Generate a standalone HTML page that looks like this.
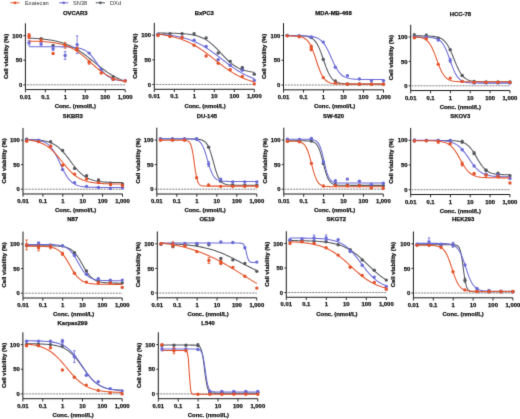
<!DOCTYPE html>
<html><head><meta charset="utf-8"><style>
html,body{margin:0;padding:0;background:#fff;width:520px;height:419px;overflow:hidden}
svg{display:block;} text{stroke:#111;stroke-width:0.25px} svg{will-change:transform;-webkit-font-smoothing:antialiased;font-family:"Liberation Sans",sans-serif;fill:#111}
</style></head><body>
<svg width="520" height="419" viewBox="0 0 520 419">
<defs><filter id="bl" color-interpolation-filters="sRGB" x="0" y="0" width="520" height="419" filterUnits="userSpaceOnUse"><feConvolveMatrix order="3" kernelMatrix="0.0113 0.0838 0.0113 0.0838 0.6193 0.0838 0.0113 0.0838 0.0113" edgeMode="duplicate" preserveAlpha="true"/></filter></defs><g filter="url(#bl)">
<rect width="520" height="419" fill="#fff"/>
<line x1="10.6" y1="2.8" x2="19.4" y2="2.8" stroke="#e4522a" stroke-width="1"/><circle cx="15.0" cy="2.8" r="1.4" fill="#e4522a"/><text x="25" y="4.9" font-size="5.7" style="fill:#333;stroke:none">Exatecan</text>
<line x1="59.2" y1="2.8" x2="68.2" y2="2.8" stroke="#6a6ad8" stroke-width="1"/><circle cx="63.7" cy="2.8" r="1.4" fill="#6a6ad8"/><text x="73" y="4.9" font-size="5.7" style="fill:#333;stroke:none">SN38</text>
<line x1="95.8" y1="2.8" x2="105" y2="2.8" stroke="#53565c" stroke-width="1"/><circle cx="100.4" cy="2.8" r="1.4" fill="#53565c"/><text x="110" y="4.9" font-size="5.7" style="fill:#333;stroke:none">DXd</text>
<g><text x="75.3" y="15.4" font-size="5.9" font-weight="bold" text-anchor="middle">OVCAR3</text><text transform="translate(8.3,56.45) rotate(-90)" font-size="5.9" font-weight="bold" text-anchor="middle">Cell viability (%)</text><text x="22.2" y="86.9" font-size="5.9" font-weight="bold" text-anchor="end">0</text><text x="22.2" y="62.3" font-size="5.9" font-weight="bold" text-anchor="end">50</text><text x="22.2" y="37.7" font-size="5.9" font-weight="bold" text-anchor="end">100</text><text x="25.4" y="98.6" font-size="5.9" font-weight="bold" text-anchor="middle">0.01</text><text x="45.36" y="98.6" font-size="5.9" font-weight="bold" text-anchor="middle">0.1</text><text x="65.32" y="98.6" font-size="5.9" font-weight="bold" text-anchor="middle">1</text><text x="85.28" y="98.6" font-size="5.9" font-weight="bold" text-anchor="middle">10</text><text x="105.24" y="98.6" font-size="5.9" font-weight="bold" text-anchor="middle">100</text><text x="125.2" y="98.6" font-size="5.9" font-weight="bold" text-anchor="middle">1,000</text><path d="M23.4 84.8H25.4M23.4 60.2H25.4M23.4 35.6H25.4M25.4 89.6V92.4M45.36 89.6V92.4M65.32 89.6V92.4M85.28 89.6V92.4M105.24 89.6V92.4M125.2 89.6V92.4" stroke="#1a1a1a" stroke-width="0.9"/><text x="75.3" y="108" font-size="5.9" font-weight="bold" text-anchor="middle">Conc. (nmol/L)</text><line x1="26.9" y1="84.8" x2="125.2" y2="84.8" stroke="#333" stroke-width="0.9" stroke-dasharray="0.7 0.8"/><path d="M25.4 23.3V89.6H125.2" fill="none" stroke="#1a1a1a" stroke-width="1"/><path d="M29.06 38.1L30.26 38.15L31.47 38.21L32.67 38.27L33.87 38.34L35.07 38.41L36.27 38.49L37.48 38.58L38.68 38.67L39.88 38.77L41.08 38.88L42.28 39L43.48 39.12L44.69 39.25L45.89 39.4L47.09 39.55L48.29 39.72L49.49 39.9L50.69 40.09L51.9 40.3L53.1 40.52L54.3 40.76L55.5 41.01L56.7 41.29L57.9 41.58L59.11 41.89L60.31 42.22L61.51 42.57L62.71 42.95L63.91 43.35L65.11 43.77L66.32 44.22L67.52 44.7L68.72 45.2L69.92 45.74L71.12 46.3L72.32 46.89L73.53 47.51L74.73 48.16L75.93 48.84L77.13 49.55L78.33 50.29L79.53 51.05L80.74 51.85L81.94 52.67L83.14 53.51L84.34 54.38L85.54 55.28L86.75 56.19L87.95 57.12L89.15 58.06L90.35 59.02L91.55 59.98L92.75 60.96L93.96 61.93L95.16 62.91L96.36 63.89L97.56 64.86L98.76 65.82L99.96 66.77L101.17 67.71L102.37 68.63L103.57 69.53L104.77 70.41L105.97 71.26L107.17 72.1L108.38 72.9L109.58 73.68L110.78 74.43L111.98 75.16L113.18 75.85L114.38 76.51L115.59 77.14L116.79 77.75L117.99 78.32L119.19 78.87L120.39 79.39L121.59 79.87L122.8 80.34L124 80.77L125.2 81.18" fill="none" stroke="#53565c" stroke-width="1.05"/><g fill="#53565c"><circle cx="41.08" cy="38.8" r="1.7"/><circle cx="53.1" cy="45.44" r="1.7"/><circle cx="113.18" cy="76.58" r="1.7"/></g><path d="M29.06 46.79L30.26 46.79L31.47 46.79L32.67 46.79L33.87 46.79L35.07 46.79L36.27 46.79L37.48 46.79L38.68 46.79L39.88 46.79L41.08 46.79L42.28 46.79L43.48 46.79L44.69 46.79L45.89 46.79L47.09 46.8L48.29 46.8L49.49 46.8L50.69 46.8L51.9 46.8L53.1 46.81L54.3 46.81L55.5 46.81L56.7 46.82L57.9 46.83L59.11 46.83L60.31 46.84L61.51 46.86L62.71 46.87L63.91 46.89L65.11 46.92L66.32 46.94L67.52 46.98L68.72 47.02L69.92 47.08L71.12 47.14L72.32 47.23L73.53 47.32L74.73 47.45L75.93 47.59L77.13 47.77L78.33 47.99L79.53 48.26L80.74 48.59L81.94 48.97L83.14 49.44L84.34 50L85.54 50.66L86.75 51.43L87.95 52.33L89.15 53.37L90.35 54.55L91.55 55.87L92.75 57.33L93.96 58.91L95.16 60.59L96.36 62.34L97.56 64.13L98.76 65.91L99.96 67.65L101.17 69.32L102.37 70.88L103.57 72.31L104.77 73.61L105.97 74.77L107.17 75.78L108.38 76.66L109.58 77.41L110.78 78.05L111.98 78.59L113.18 79.05L114.38 79.42L115.59 79.74L116.79 79.99L117.99 80.21L119.19 80.38L120.39 80.53L121.59 80.64L122.8 80.74L124 80.82L125.2 80.88" fill="none" stroke="#6a6ad8" stroke-width="1.05"/><path d="M29.06 40.27V45.19M27.76 40.27H30.36M27.76 45.19H30.36M41.08 41.75V45.69M39.78 41.75H42.38M39.78 45.69H42.38M53.1 46.62V50.56M51.8 46.62H54.4M51.8 50.56H54.4M65.11 51.54V59.41M63.81 51.54H66.41M63.81 59.41H66.41M77.13 35.85V53.56M75.83 35.85H78.43M75.83 53.56H78.43" stroke="#6a6ad8" stroke-width="0.8" fill="none"/><g fill="#6a6ad8"><circle cx="29.06" cy="42.73" r="1.7"/><circle cx="41.08" cy="43.72" r="1.7"/><circle cx="53.1" cy="48.59" r="1.7"/><circle cx="65.11" cy="55.48" r="1.7"/><circle cx="77.13" cy="44.7" r="1.7"/><circle cx="89.15" cy="53.12" r="1.7"/><circle cx="101.17" cy="69.6" r="1.7"/><circle cx="113.18" cy="79.39" r="1.7"/><circle cx="125.2" cy="80.62" r="1.7"/></g><path d="M29.06 41.11L30.26 41.13L31.47 41.16L32.67 41.19L33.87 41.22L35.07 41.26L36.27 41.3L37.48 41.35L38.68 41.4L39.88 41.45L41.08 41.51L42.28 41.58L43.48 41.65L44.69 41.73L45.89 41.82L47.09 41.92L48.29 42.03L49.49 42.15L50.69 42.29L51.9 42.43L53.1 42.59L54.3 42.77L55.5 42.96L56.7 43.18L57.9 43.41L59.11 43.66L60.31 43.94L61.51 44.25L62.71 44.58L63.91 44.94L65.11 45.33L66.32 45.75L67.52 46.21L68.72 46.71L69.92 47.24L71.12 47.82L72.32 48.43L73.53 49.09L74.73 49.79L75.93 50.53L77.13 51.32L78.33 52.15L79.53 53.02L80.74 53.92L81.94 54.87L83.14 55.85L84.34 56.86L85.54 57.89L86.75 58.95L87.95 60.02L89.15 61.1L90.35 62.19L91.55 63.28L92.75 64.37L93.96 65.44L95.16 66.5L96.36 67.53L97.56 68.54L98.76 69.51L99.96 70.46L101.17 71.37L102.37 72.23L103.57 73.06L104.77 73.85L105.97 74.59L107.17 75.29L108.38 75.94L109.58 76.56L110.78 77.13L111.98 77.66L113.18 78.16L114.38 78.62L115.59 79.04L116.79 79.43L117.99 79.79L119.19 80.12L120.39 80.43L121.59 80.7L122.8 80.96L124 81.19L125.2 81.4" fill="none" stroke="#e4522a" stroke-width="1.05"/><path d="M29.06 33.63V36.58M27.76 33.63H30.36M27.76 36.58H30.36M65.11 42.34V48.24M63.81 42.34H66.41M63.81 48.24H66.41M77.13 47.21V51.15M75.83 47.21H78.43M75.83 51.15H78.43M89.15 60.35V64.28M87.85 60.35H90.45M87.85 64.28H90.45M29.06 35.5V38.45M27.76 35.5H30.36M27.76 38.45H30.36" stroke="#e4522a" stroke-width="0.8" fill="none"/><g fill="#e4522a"><circle cx="29.06" cy="35.11" r="1.7"/><circle cx="41.08" cy="39.83" r="1.7"/><circle cx="53.1" cy="53.51" r="1.7"/><circle cx="65.11" cy="45.29" r="1.7"/><circle cx="77.13" cy="49.18" r="1.7"/><circle cx="89.15" cy="62.32" r="1.7"/><circle cx="101.17" cy="73.09" r="1.7"/><circle cx="113.18" cy="79.39" r="1.7"/><circle cx="125.2" cy="80.96" r="1.7"/><circle cx="29.06" cy="36.98" r="1.7"/></g></g>
<g><text x="204.3" y="15.4" font-size="5.9" font-weight="bold" text-anchor="middle">BxPC3</text><text transform="translate(137.2,56.09) rotate(-90)" font-size="5.9" font-weight="bold" text-anchor="middle">Cell viability (%)</text><text x="151.1" y="86.6" font-size="5.9" font-weight="bold" text-anchor="end">0</text><text x="151.1" y="61.95" font-size="5.9" font-weight="bold" text-anchor="end">50</text><text x="151.1" y="37.3" font-size="5.9" font-weight="bold" text-anchor="end">100</text><text x="154.3" y="98.31" font-size="5.9" font-weight="bold" text-anchor="middle">0.01</text><text x="174.3" y="98.31" font-size="5.9" font-weight="bold" text-anchor="middle">0.1</text><text x="194.3" y="98.31" font-size="5.9" font-weight="bold" text-anchor="middle">1</text><text x="214.3" y="98.31" font-size="5.9" font-weight="bold" text-anchor="middle">10</text><text x="234.3" y="98.31" font-size="5.9" font-weight="bold" text-anchor="middle">100</text><text x="254.3" y="98.31" font-size="5.9" font-weight="bold" text-anchor="middle">1,000</text><path d="M152.3 84.5H154.3M152.3 59.85H154.3M152.3 35.2H154.3M154.3 89.31V92.11M174.3 89.31V92.11M194.3 89.31V92.11M214.3 89.31V92.11M234.3 89.31V92.11M254.3 89.31V92.11" stroke="#1a1a1a" stroke-width="0.9"/><text x="205" y="107.71" font-size="5.9" font-weight="bold" text-anchor="middle">Conc. (nmol/L)</text><line x1="155.8" y1="84.5" x2="254.3" y2="84.5" stroke="#333" stroke-width="0.9" stroke-dasharray="0.7 0.8"/><path d="M154.3 22.88V89.31H254.3" fill="none" stroke="#1a1a1a" stroke-width="1"/><path d="M157.97 33.08L159.17 33.08L160.38 33.09L161.58 33.1L162.79 33.11L163.99 33.12L165.2 33.13L166.4 33.15L167.6 33.16L168.81 33.18L170.01 33.2L171.22 33.22L172.42 33.25L173.62 33.28L174.83 33.31L176.03 33.35L177.24 33.4L178.44 33.45L179.64 33.51L180.85 33.57L182.05 33.64L183.26 33.73L184.46 33.82L185.67 33.93L186.87 34.05L188.07 34.18L189.28 34.34L190.48 34.51L191.69 34.7L192.89 34.92L194.09 35.17L195.3 35.45L196.5 35.76L197.71 36.11L198.91 36.49L200.11 36.92L201.32 37.4L202.52 37.93L203.73 38.51L204.93 39.15L206.14 39.85L207.34 40.62L208.54 41.44L209.75 42.33L210.95 43.29L212.16 44.31L213.36 45.39L214.56 46.52L215.77 47.7L216.97 48.92L218.18 50.18L219.38 51.47L220.58 52.76L221.79 54.07L222.99 55.36L224.2 56.64L225.4 57.89L226.61 59.1L227.81 60.27L229.01 61.39L230.22 62.45L231.42 63.45L232.63 64.38L233.83 65.26L235.03 66.06L236.24 66.81L237.44 67.49L238.65 68.12L239.85 68.68L241.05 69.2L242.26 69.66L243.46 70.08L244.67 70.45L245.87 70.79L247.08 71.09L248.28 71.36L249.48 71.6L250.69 71.81L251.89 72L253.1 72.16L254.3 72.31" fill="none" stroke="#53565c" stroke-width="1.05"/><path d="M242.26 66.75V68.72M240.96 66.75H243.56M240.96 68.72H243.56M242.26 68.23V70.2M240.96 68.23H243.56M240.96 70.2H243.56" stroke="#53565c" stroke-width="0.8" fill="none"/><g fill="#53565c"><circle cx="157.97" cy="34.31" r="1.7"/><circle cx="170.01" cy="33.72" r="1.7"/><circle cx="182.05" cy="33.72" r="1.7"/><circle cx="194.09" cy="33.72" r="1.7"/><circle cx="206.14" cy="37.91" r="1.7"/><circle cx="218.18" cy="52.95" r="1.7"/><circle cx="230.22" cy="61.33" r="1.7"/><circle cx="242.26" cy="67.74" r="1.7"/><circle cx="254.3" cy="74.15" r="1.7"/><circle cx="242.26" cy="69.22" r="1.7"/></g><path d="M157.97 34.13L159.17 34.21L160.38 34.3L161.58 34.4L162.79 34.5L163.99 34.61L165.2 34.72L166.4 34.85L167.6 34.98L168.81 35.12L170.01 35.27L171.22 35.43L172.42 35.61L173.62 35.79L174.83 35.99L176.03 36.2L177.24 36.42L178.44 36.66L179.64 36.91L180.85 37.18L182.05 37.47L183.26 37.77L184.46 38.09L185.67 38.43L186.87 38.79L188.07 39.17L189.28 39.57L190.48 40L191.69 40.45L192.89 40.92L194.09 41.41L195.3 41.93L196.5 42.48L197.71 43.05L198.91 43.64L200.11 44.26L201.32 44.91L202.52 45.58L203.73 46.28L204.93 47.01L206.14 47.76L207.34 48.53L208.54 49.32L209.75 50.14L210.95 50.97L212.16 51.83L213.36 52.7L214.56 53.59L215.77 54.49L216.97 55.4L218.18 56.33L219.38 57.25L220.58 58.19L221.79 59.12L222.99 60.06L224.2 60.99L225.4 61.92L226.61 62.84L227.81 63.75L229.01 64.65L230.22 65.53L231.42 66.4L232.63 67.25L233.83 68.08L235.03 68.89L236.24 69.68L237.44 70.45L238.65 71.2L239.85 71.91L241.05 72.61L242.26 73.28L243.46 73.92L244.67 74.53L245.87 75.13L247.08 75.69L248.28 76.23L249.48 76.74L250.69 77.23L251.89 77.7L253.1 78.14L254.3 78.56" fill="none" stroke="#6a6ad8" stroke-width="1.05"/><g fill="#6a6ad8"><circle cx="157.97" cy="34.71" r="1.7"/><circle cx="170.01" cy="35.69" r="1.7"/><circle cx="182.05" cy="37.17" r="1.7"/><circle cx="194.09" cy="40.13" r="1.7"/><circle cx="206.14" cy="46.54" r="1.7"/><circle cx="218.18" cy="59.6" r="1.7"/><circle cx="230.22" cy="65.27" r="1.7"/><circle cx="242.26" cy="70.2" r="1.7"/><circle cx="254.3" cy="80.41" r="1.7"/></g><path d="M157.97 34.22L159.17 34.36L160.38 34.51L161.58 34.67L162.79 34.84L163.99 35.02L165.2 35.22L166.4 35.42L167.6 35.64L168.81 35.87L170.01 36.11L171.22 36.37L172.42 36.65L173.62 36.94L174.83 37.25L176.03 37.58L177.24 37.92L178.44 38.29L179.64 38.67L180.85 39.08L182.05 39.5L183.26 39.95L184.46 40.43L185.67 40.92L186.87 41.44L188.07 41.99L189.28 42.56L190.48 43.15L191.69 43.77L192.89 44.41L194.09 45.08L195.3 45.78L196.5 46.49L197.71 47.24L198.91 48L200.11 48.79L201.32 49.6L202.52 50.44L203.73 51.29L204.93 52.16L206.14 53.04L207.34 53.94L208.54 54.86L209.75 55.78L210.95 56.71L212.16 57.66L213.36 58.6L214.56 59.55L215.77 60.5L216.97 61.44L218.18 62.38L219.38 63.32L220.58 64.25L221.79 65.16L222.99 66.07L224.2 66.95L225.4 67.83L226.61 68.68L227.81 69.52L229.01 70.33L230.22 71.13L231.42 71.9L232.63 72.64L233.83 73.37L235.03 74.07L236.24 74.74L237.44 75.39L238.65 76.01L239.85 76.61L241.05 77.19L242.26 77.74L243.46 78.26L244.67 78.76L245.87 79.24L247.08 79.69L248.28 80.12L249.48 80.53L250.69 80.92L251.89 81.29L253.1 81.64L254.3 81.97" fill="none" stroke="#e4522a" stroke-width="1.05"/><g fill="#e4522a"><circle cx="157.97" cy="35.45" r="1.7"/><circle cx="170.01" cy="36.43" r="1.7"/><circle cx="182.05" cy="37.42" r="1.7"/><circle cx="194.09" cy="45.31" r="1.7"/><circle cx="206.14" cy="56" r="1.7"/><circle cx="218.18" cy="63.3" r="1.7"/><circle cx="230.22" cy="69.81" r="1.7"/><circle cx="242.26" cy="76.41" r="1.7"/><circle cx="254.3" cy="83.91" r="1.7"/></g></g>
<g><text x="333.5" y="15.4" font-size="5.9" font-weight="bold" text-anchor="middle">MDA-MB-468</text><text transform="translate(266.4,56.48) rotate(-90)" font-size="5.9" font-weight="bold" text-anchor="middle">Cell viability (%)</text><text x="280.3" y="87.1" font-size="5.9" font-weight="bold" text-anchor="end">0</text><text x="280.3" y="62.35" font-size="5.9" font-weight="bold" text-anchor="end">50</text><text x="280.3" y="37.6" font-size="5.9" font-weight="bold" text-anchor="end">100</text><text x="283.5" y="98.83" font-size="5.9" font-weight="bold" text-anchor="middle">0.01</text><text x="303.5" y="98.83" font-size="5.9" font-weight="bold" text-anchor="middle">0.1</text><text x="323.5" y="98.83" font-size="5.9" font-weight="bold" text-anchor="middle">1</text><text x="343.5" y="98.83" font-size="5.9" font-weight="bold" text-anchor="middle">10</text><text x="363.5" y="98.83" font-size="5.9" font-weight="bold" text-anchor="middle">100</text><text x="383.5" y="98.83" font-size="5.9" font-weight="bold" text-anchor="middle">1,000</text><path d="M281.5 85H283.5M281.5 60.25H283.5M281.5 35.5H283.5M283.5 89.83V92.63M303.5 89.83V92.63M323.5 89.83V92.63M343.5 89.83V92.63M363.5 89.83V92.63M383.5 89.83V92.63" stroke="#1a1a1a" stroke-width="0.9"/><text x="334.6" y="108.23" font-size="5.9" font-weight="bold" text-anchor="middle">Conc. (nmol/L)</text><line x1="285" y1="85" x2="383.5" y2="85" stroke="#333" stroke-width="0.9" stroke-dasharray="0.7 0.8"/><path d="M283.5 23.12V89.83H383.5" fill="none" stroke="#1a1a1a" stroke-width="1"/><path d="M287.17 35.52L288.37 35.52L289.58 35.52L290.78 35.53L291.99 35.53L293.19 35.54L294.4 35.55L295.6 35.56L296.8 35.58L298.01 35.61L299.21 35.64L300.42 35.69L301.62 35.75L302.82 35.83L304.03 35.94L305.23 36.08L306.44 36.27L307.64 36.53L308.84 36.87L310.05 37.31L311.25 37.89L312.46 38.65L313.66 39.62L314.87 40.87L316.07 42.42L317.27 44.34L318.48 46.65L319.68 49.36L320.89 52.42L322.09 55.76L323.29 59.26L324.5 62.79L325.7 66.19L326.91 69.33L328.11 72.14L329.31 74.55L330.52 76.58L331.72 78.23L332.93 79.55L334.13 80.6L335.34 81.41L336.54 82.03L337.74 82.51L338.95 82.87L340.15 83.15L341.36 83.35L342.56 83.51L343.76 83.63L344.97 83.71L346.17 83.78L347.38 83.83L348.58 83.87L349.78 83.89L350.99 83.91L352.19 83.93L353.4 83.94L354.6 83.95L355.81 83.96L357.01 83.96L358.21 83.96L359.42 83.97L360.62 83.97L361.83 83.97L363.03 83.97L364.23 83.97L365.44 83.97L366.64 83.97L367.85 83.97L369.05 83.97L370.25 83.97L371.46 83.97L372.66 83.97L373.87 83.97L375.07 83.97L376.28 83.97L377.48 83.97L378.68 83.97L379.89 83.97L381.09 83.97L382.3 83.97L383.5 83.97" fill="none" stroke="#53565c" stroke-width="1.05"/><g fill="#53565c"><circle cx="287.17" cy="35.5" r="1.7"/><circle cx="299.21" cy="35.99" r="1.7"/><circle cx="311.25" cy="37.48" r="1.7"/><circle cx="323.29" cy="59.41" r="1.7"/><circle cx="335.34" cy="81.04" r="1.7"/><circle cx="347.38" cy="84.01" r="1.7"/><circle cx="359.42" cy="84.01" r="1.7"/><circle cx="371.46" cy="84.01" r="1.7"/><circle cx="383.5" cy="84.01" r="1.7"/></g><path d="M287.17 35.77L288.37 35.77L289.58 35.77L290.78 35.78L291.99 35.78L293.19 35.78L294.4 35.79L295.6 35.79L296.8 35.8L298.01 35.81L299.21 35.82L300.42 35.84L301.62 35.86L302.82 35.89L304.03 35.92L305.23 35.96L306.44 36.02L307.64 36.09L308.84 36.18L310.05 36.29L311.25 36.44L312.46 36.63L313.66 36.87L314.87 37.17L316.07 37.55L317.27 38.03L318.48 38.64L319.68 39.38L320.89 40.31L322.09 41.43L323.29 42.79L324.5 44.39L325.7 46.25L326.91 48.38L328.11 50.74L329.31 53.29L330.52 55.97L331.72 58.71L332.93 61.41L334.13 64L335.34 66.4L336.54 68.58L337.74 70.5L338.95 72.16L340.15 73.57L341.36 74.74L342.56 75.7L343.76 76.49L344.97 77.12L346.17 77.63L347.38 78.03L348.58 78.35L349.78 78.6L350.99 78.8L352.19 78.95L353.4 79.07L354.6 79.17L355.81 79.24L357.01 79.3L358.21 79.35L359.42 79.38L360.62 79.41L361.83 79.43L363.03 79.45L364.23 79.46L365.44 79.47L366.64 79.48L367.85 79.49L369.05 79.49L370.25 79.49L371.46 79.5L372.66 79.5L373.87 79.5L375.07 79.5L376.28 79.5L377.48 79.5L378.68 79.5L379.89 79.5L381.09 79.51L382.3 79.51L383.5 79.51" fill="none" stroke="#6a6ad8" stroke-width="1.05"/><g fill="#6a6ad8"><circle cx="287.17" cy="35.5" r="1.7"/><circle cx="299.21" cy="35.99" r="1.7"/><circle cx="311.25" cy="36.98" r="1.7"/><circle cx="323.29" cy="42.08" r="1.7"/><circle cx="335.34" cy="67.18" r="1.7"/><circle cx="347.38" cy="75.69" r="1.7"/><circle cx="359.42" cy="79.01" r="1.7"/><circle cx="371.46" cy="80.59" r="1.7"/><circle cx="383.5" cy="80.59" r="1.7"/></g><path d="M287.17 36L288.37 36.01L289.58 36.03L290.78 36.04L291.99 36.07L293.19 36.11L294.4 36.15L295.6 36.22L296.8 36.31L298.01 36.43L299.21 36.59L300.42 36.81L301.62 37.11L302.82 37.51L304.03 38.04L305.23 38.74L306.44 39.66L307.64 40.86L308.84 42.39L310.05 44.31L311.25 46.65L312.46 49.43L313.66 52.61L314.87 56.11L316.07 59.78L317.27 63.47L318.48 67L319.68 70.23L320.89 73.07L322.09 75.48L323.29 77.45L324.5 79.04L325.7 80.28L326.91 81.24L328.11 81.97L329.31 82.52L330.52 82.94L331.72 83.25L332.93 83.48L334.13 83.65L335.34 83.77L336.54 83.86L337.74 83.93L338.95 83.98L340.15 84.02L341.36 84.05L342.56 84.07L343.76 84.08L344.97 84.09L346.17 84.1L347.38 84.11L348.58 84.11L349.78 84.11L350.99 84.12L352.19 84.12L353.4 84.12L354.6 84.12L355.81 84.12L357.01 84.12L358.21 84.12L359.42 84.12L360.62 84.12L361.83 84.12L363.03 84.12L364.23 84.12L365.44 84.12L366.64 84.12L367.85 84.12L369.05 84.12L370.25 84.12L371.46 84.12L372.66 84.12L373.87 84.12L375.07 84.12L376.28 84.12L377.48 84.12L378.68 84.12L379.89 84.12L381.09 84.12L382.3 84.12L383.5 84.12" fill="none" stroke="#e4522a" stroke-width="1.05"/><path d="M311.25 45.1V48.07M309.95 45.1H312.55M309.95 48.07H312.55M311.25 47.88V50.84M309.95 47.88H312.55M309.95 50.84H312.55" stroke="#e4522a" stroke-width="0.8" fill="none"/><g fill="#e4522a"><circle cx="287.17" cy="35.85" r="1.7"/><circle cx="299.21" cy="36.79" r="1.7"/><circle cx="311.25" cy="46.59" r="1.7"/><circle cx="323.29" cy="77.58" r="1.7"/><circle cx="335.34" cy="82.92" r="1.7"/><circle cx="347.38" cy="84.31" r="1.7"/><circle cx="359.42" cy="84.31" r="1.7"/><circle cx="371.46" cy="84.31" r="1.7"/><circle cx="383.5" cy="84.31" r="1.7"/><circle cx="311.25" cy="49.36" r="1.7"/></g></g>
<g><text x="460.32" y="16.2" font-size="5.9" font-weight="bold" text-anchor="middle">HCC-78</text><text transform="translate(392.9,57.68) rotate(-90)" font-size="5.9" font-weight="bold" text-anchor="middle">Cell viability (%)</text><text x="407.5" y="87.9" font-size="5.9" font-weight="bold" text-anchor="end">0</text><text x="407.5" y="63.5" font-size="5.9" font-weight="bold" text-anchor="end">50</text><text x="407.5" y="39.1" font-size="5.9" font-weight="bold" text-anchor="end">100</text><text x="410.7" y="99.56" font-size="5.9" font-weight="bold" text-anchor="middle">0.01</text><text x="430.55" y="99.56" font-size="5.9" font-weight="bold" text-anchor="middle">0.1</text><text x="450.4" y="99.56" font-size="5.9" font-weight="bold" text-anchor="middle">1</text><text x="470.25" y="99.56" font-size="5.9" font-weight="bold" text-anchor="middle">10</text><text x="490.1" y="99.56" font-size="5.9" font-weight="bold" text-anchor="middle">100</text><text x="509.95" y="99.56" font-size="5.9" font-weight="bold" text-anchor="middle">1,000</text><path d="M408.7 85.8H410.7M408.7 61.4H410.7M408.7 37H410.7M410.7 90.56V93.36M430.55 90.56V93.36M450.4 90.56V93.36M470.25 90.56V93.36M490.1 90.56V93.36M509.95 90.56V93.36" stroke="#1a1a1a" stroke-width="0.9"/><text x="460.32" y="108.96" font-size="5.9" font-weight="bold" text-anchor="middle">Conc. (nmol/L)</text><line x1="412.2" y1="85.8" x2="509.95" y2="85.8" stroke="#333" stroke-width="0.9" stroke-dasharray="0.7 0.8"/><path d="M410.7 24.8V90.56H509.95" fill="none" stroke="#1a1a1a" stroke-width="1"/><path d="M414.34 35.86L415.54 35.86L416.73 35.87L417.93 35.87L419.12 35.88L420.32 35.88L421.51 35.89L422.71 35.9L423.9 35.92L425.1 35.94L426.29 35.96L427.49 35.99L428.68 36.04L429.88 36.09L431.07 36.16L432.27 36.25L433.46 36.37L434.66 36.53L435.85 36.72L437.05 36.98L438.24 37.3L439.44 37.71L440.63 38.24L441.83 38.9L443.03 39.74L444.22 40.77L445.42 42.04L446.61 43.57L447.81 45.4L449 47.52L450.2 49.94L451.39 52.61L452.59 55.48L453.78 58.46L454.98 61.45L456.17 64.36L457.37 67.1L458.56 69.6L459.76 71.81L460.95 73.72L462.15 75.34L463.34 76.69L464.54 77.79L465.73 78.68L466.93 79.39L468.12 79.95L469.32 80.4L470.51 80.75L471.71 81.02L472.9 81.23L474.1 81.4L475.29 81.52L476.49 81.62L477.68 81.7L478.88 81.76L480.07 81.8L481.27 81.84L482.46 81.87L483.66 81.89L484.85 81.9L486.05 81.92L487.24 81.93L488.44 81.93L489.63 81.94L490.83 81.94L492.02 81.95L493.22 81.95L494.41 81.95L495.61 81.95L496.8 81.95L498 81.96L499.19 81.96L500.39 81.96L501.58 81.96L502.78 81.96L503.97 81.96L505.17 81.96L506.36 81.96L507.56 81.96L508.75 81.96L509.95 81.96" fill="none" stroke="#53565c" stroke-width="1.05"/><path d="M414.34 33.58V37.49M413.04 33.58H415.64M413.04 37.49H415.64M426.29 34.07V37M424.99 34.07H427.59M424.99 37H427.59" stroke="#53565c" stroke-width="0.8" fill="none"/><g fill="#53565c"><circle cx="414.34" cy="35.54" r="1.7"/><circle cx="426.29" cy="35.54" r="1.7"/><circle cx="438.24" cy="38.22" r="1.7"/><circle cx="450.2" cy="49.69" r="1.7"/><circle cx="462.15" cy="75.55" r="1.7"/><circle cx="474.1" cy="81.41" r="1.7"/><circle cx="486.05" cy="81.9" r="1.7"/><circle cx="498" cy="81.9" r="1.7"/><circle cx="509.95" cy="81.9" r="1.7"/></g><path d="M414.34 37.12L415.54 37.12L416.73 37.13L417.93 37.13L419.12 37.14L420.32 37.15L421.51 37.16L422.71 37.17L423.9 37.19L425.1 37.21L426.29 37.24L427.49 37.29L428.68 37.35L429.88 37.43L431.07 37.53L432.27 37.68L433.46 37.87L434.66 38.12L435.85 38.45L437.05 38.9L438.24 39.48L439.44 40.24L440.63 41.21L441.83 42.46L443.03 44.02L444.22 45.94L445.42 48.25L446.61 50.93L447.81 53.94L449 57.2L450.2 60.59L451.39 63.96L452.59 67.16L453.78 70.1L454.98 72.68L456.17 74.87L457.37 76.69L458.56 78.17L459.76 79.33L460.95 80.25L462.15 80.95L463.34 81.49L464.54 81.9L465.73 82.22L466.93 82.45L468.12 82.62L469.32 82.76L470.51 82.85L471.71 82.93L472.9 82.98L474.1 83.02L475.29 83.05L476.49 83.08L477.68 83.09L478.88 83.11L480.07 83.12L481.27 83.12L482.46 83.13L483.66 83.13L484.85 83.13L486.05 83.14L487.24 83.14L488.44 83.14L489.63 83.14L490.83 83.14L492.02 83.14L493.22 83.14L494.41 83.14L495.61 83.14L496.8 83.14L498 83.14L499.19 83.14L500.39 83.14L501.58 83.14L502.78 83.14L503.97 83.14L505.17 83.14L506.36 83.14L507.56 83.14L508.75 83.14L509.95 83.14" fill="none" stroke="#6a6ad8" stroke-width="1.05"/><path d="M450.2 58.47V62.38M448.9 58.47H451.5M448.9 62.38H451.5" stroke="#6a6ad8" stroke-width="0.8" fill="none"/><g fill="#6a6ad8"><circle cx="414.34" cy="37" r="1.7"/><circle cx="426.29" cy="37" r="1.7"/><circle cx="438.24" cy="39.93" r="1.7"/><circle cx="450.2" cy="60.42" r="1.7"/><circle cx="462.15" cy="81.41" r="1.7"/><circle cx="474.1" cy="83.02" r="1.7"/><circle cx="486.05" cy="83.02" r="1.7"/><circle cx="498" cy="83.02" r="1.7"/><circle cx="509.95" cy="83.02" r="1.7"/></g><path d="M414.34 36.88L415.54 36.95L416.73 37.03L417.93 37.15L419.12 37.3L420.32 37.51L421.51 37.78L422.71 38.13L423.9 38.6L425.1 39.22L426.29 40.01L427.49 41.04L428.68 42.33L429.88 43.94L431.07 45.91L432.27 48.24L433.46 50.93L434.66 53.93L435.85 57.14L437.05 60.44L438.24 63.7L439.44 66.77L440.63 69.55L441.83 72L443.03 74.07L444.22 75.78L445.42 77.16L446.61 78.25L447.81 79.11L449 79.77L450.2 80.28L451.39 80.67L452.59 80.96L453.78 81.18L454.98 81.35L456.17 81.47L457.37 81.57L458.56 81.64L459.76 81.69L460.95 81.73L462.15 81.76L463.34 81.78L464.54 81.79L465.73 81.81L466.93 81.82L468.12 81.82L469.32 81.83L470.51 81.83L471.71 81.83L472.9 81.84L474.1 81.84L475.29 81.84L476.49 81.84L477.68 81.84L478.88 81.84L480.07 81.84L481.27 81.84L482.46 81.84L483.66 81.84L484.85 81.84L486.05 81.84L487.24 81.84L488.44 81.84L489.63 81.84L490.83 81.84L492.02 81.84L493.22 81.84L494.41 81.84L495.61 81.84L496.8 81.84L498 81.84L499.19 81.84L500.39 81.84L501.58 81.84L502.78 81.84L503.97 81.84L505.17 81.84L506.36 81.84L507.56 81.84L508.75 81.84L509.95 81.84" fill="none" stroke="#e4522a" stroke-width="1.05"/><g fill="#e4522a"><circle cx="414.34" cy="37.83" r="1.7"/><circle cx="426.29" cy="38.81" r="1.7"/><circle cx="438.24" cy="64.33" r="1.7"/><circle cx="450.2" cy="78.09" r="1.7"/><circle cx="462.15" cy="81.41" r="1.7"/><circle cx="474.1" cy="82.38" r="1.7"/><circle cx="486.05" cy="82.38" r="1.7"/><circle cx="498" cy="82.38" r="1.7"/><circle cx="509.95" cy="82.38" r="1.7"/></g></g>
<g><text x="72.75" y="117.7" font-size="5.9" font-weight="bold" text-anchor="middle">SKBR3</text><text transform="translate(5.9,160.96) rotate(-90)" font-size="5.9" font-weight="bold" text-anchor="middle">Cell viability (%)</text><text x="19.8" y="191.3" font-size="5.9" font-weight="bold" text-anchor="end">0</text><text x="19.8" y="166.8" font-size="5.9" font-weight="bold" text-anchor="end">50</text><text x="19.8" y="142.3" font-size="5.9" font-weight="bold" text-anchor="end">100</text><text x="23" y="202.98" font-size="5.9" font-weight="bold" text-anchor="middle">0.01</text><text x="42.9" y="202.98" font-size="5.9" font-weight="bold" text-anchor="middle">0.1</text><text x="62.8" y="202.98" font-size="5.9" font-weight="bold" text-anchor="middle">1</text><text x="82.7" y="202.98" font-size="5.9" font-weight="bold" text-anchor="middle">10</text><text x="102.6" y="202.98" font-size="5.9" font-weight="bold" text-anchor="middle">100</text><text x="122.5" y="202.98" font-size="5.9" font-weight="bold" text-anchor="middle">1,000</text><path d="M21 189.2H23M21 164.7H23M21 140.2H23M23 193.98V196.78M42.9 193.98V196.78M62.8 193.98V196.78M82.7 193.98V196.78M102.6 193.98V196.78M122.5 193.98V196.78" stroke="#1a1a1a" stroke-width="0.9"/><text x="75.65" y="212.38" font-size="5.9" font-weight="bold" text-anchor="middle">Conc. (nmol/L)</text><line x1="24.5" y1="189.2" x2="122.5" y2="189.2" stroke="#333" stroke-width="0.9" stroke-dasharray="0.7 0.8"/><path d="M23 127.95V193.98H122.5" fill="none" stroke="#1a1a1a" stroke-width="1"/><path d="M26.65 139.43L27.85 139.46L29.05 139.5L30.25 139.54L31.44 139.58L32.64 139.64L33.84 139.7L35.04 139.78L36.24 139.87L37.43 139.96L38.63 140.08L39.83 140.21L41.03 140.36L42.23 140.54L43.43 140.74L44.62 140.97L45.82 141.24L47.02 141.54L48.22 141.89L49.42 142.28L50.61 142.73L51.81 143.23L53.01 143.81L54.21 144.45L55.41 145.17L56.6 145.97L57.8 146.86L59 147.83L60.2 148.9L61.4 150.06L62.6 151.31L63.79 152.64L64.99 154.05L66.19 155.53L67.39 157.06L68.59 158.64L69.78 160.24L70.98 161.85L72.18 163.45L73.38 165.02L74.58 166.55L75.77 168.02L76.97 169.42L78.17 170.75L79.37 171.99L80.57 173.14L81.76 174.19L82.96 175.16L84.16 176.04L85.36 176.83L86.56 177.54L87.76 178.17L88.95 178.74L90.15 179.24L91.35 179.68L92.55 180.07L93.75 180.41L94.94 180.71L96.14 180.97L97.34 181.2L98.54 181.4L99.74 181.57L100.93 181.72L102.13 181.85L103.33 181.96L104.53 182.06L105.73 182.14L106.92 182.22L108.12 182.28L109.32 182.34L110.52 182.38L111.72 182.42L112.92 182.46L114.11 182.49L115.31 182.52L116.51 182.54L117.71 182.56L118.91 182.58L120.1 182.59L121.3 182.6L122.5 182.61" fill="none" stroke="#53565c" stroke-width="1.05"/><g fill="#53565c"><circle cx="26.65" cy="139.22" r="1.7"/><circle cx="38.63" cy="141.42" r="1.7"/><circle cx="50.61" cy="141.67" r="1.7"/><circle cx="62.6" cy="150.49" r="1.7"/><circle cx="74.58" cy="168.42" r="1.7"/><circle cx="86.56" cy="175.77" r="1.7"/><circle cx="98.54" cy="179.89" r="1.7"/><circle cx="110.52" cy="183.12" r="1.7"/><circle cx="122.5" cy="184.01" r="1.7"/></g><path d="M26.65 139.54L27.85 139.57L29.05 139.6L30.25 139.65L31.44 139.7L32.64 139.77L33.84 139.85L35.04 139.95L36.24 140.08L37.43 140.24L38.63 140.43L39.83 140.67L41.03 140.96L42.23 141.31L43.43 141.74L44.62 142.26L45.82 142.89L47.02 143.65L48.22 144.55L49.42 145.62L50.61 146.87L51.81 148.32L53.01 149.98L54.21 151.85L55.41 153.93L56.6 156.18L57.8 158.59L59 161.1L60.2 163.66L61.4 166.22L62.6 168.72L63.79 171.1L64.99 173.32L66.19 175.36L67.39 177.19L68.59 178.81L69.78 180.23L70.98 181.44L72.18 182.48L73.38 183.36L74.58 184.09L75.77 184.7L76.97 185.2L78.17 185.62L79.37 185.96L80.57 186.24L81.76 186.47L82.96 186.65L84.16 186.8L85.36 186.93L86.56 187.02L87.76 187.11L88.95 187.17L90.15 187.22L91.35 187.27L92.55 187.3L93.75 187.33L94.94 187.35L96.14 187.37L97.34 187.38L98.54 187.39L99.74 187.4L100.93 187.41L102.13 187.42L103.33 187.42L104.53 187.43L105.73 187.43L106.92 187.43L108.12 187.44L109.32 187.44L110.52 187.44L111.72 187.44L112.92 187.44L114.11 187.44L115.31 187.44L116.51 187.44L117.71 187.44L118.91 187.44L120.1 187.44L121.3 187.44L122.5 187.44" fill="none" stroke="#6a6ad8" stroke-width="1.05"/><g fill="#6a6ad8"><circle cx="26.65" cy="140.2" r="1.7"/><circle cx="38.63" cy="140.2" r="1.7"/><circle cx="50.61" cy="146.08" r="1.7"/><circle cx="62.6" cy="169.6" r="1.7"/><circle cx="74.58" cy="182.58" r="1.7"/><circle cx="86.56" cy="186.36" r="1.7"/><circle cx="98.54" cy="187.48" r="1.7"/><circle cx="110.52" cy="188.46" r="1.7"/><circle cx="122.5" cy="187.97" r="1.7"/></g><path d="M26.65 139.82L27.85 139.94L29.05 140.08L30.25 140.24L31.44 140.42L32.64 140.63L33.84 140.86L35.04 141.12L36.24 141.41L37.43 141.74L38.63 142.11L39.83 142.52L41.03 142.98L42.23 143.5L43.43 144.07L44.62 144.71L45.82 145.41L47.02 146.18L48.22 147.02L49.42 147.93L50.61 148.92L51.81 149.99L53.01 151.13L54.21 152.34L55.41 153.62L56.6 154.96L57.8 156.35L59 157.79L60.2 159.25L61.4 160.74L62.6 162.23L63.79 163.71L64.99 165.18L66.19 166.62L67.39 168.01L68.59 169.35L69.78 170.63L70.98 171.85L72.18 172.99L73.38 174.06L74.58 175.05L75.77 175.97L76.97 176.82L78.17 177.59L79.37 178.29L80.57 178.93L81.76 179.5L82.96 180.02L84.16 180.48L85.36 180.9L86.56 181.27L87.76 181.6L88.95 181.89L90.15 182.15L91.35 182.39L92.55 182.59L93.75 182.77L94.94 182.93L96.14 183.07L97.34 183.2L98.54 183.31L99.74 183.4L100.93 183.49L102.13 183.56L103.33 183.63L104.53 183.68L105.73 183.73L106.92 183.78L108.12 183.82L109.32 183.85L110.52 183.88L111.72 183.91L112.92 183.93L114.11 183.95L115.31 183.97L116.51 183.98L117.71 184L118.91 184.01L120.1 184.02L121.3 184.03L122.5 184.04" fill="none" stroke="#e4522a" stroke-width="1.05"/><g fill="#e4522a"><circle cx="26.65" cy="141.18" r="1.7"/><circle cx="38.63" cy="141.67" r="1.7"/><circle cx="50.61" cy="146.32" r="1.7"/><circle cx="62.6" cy="165.19" r="1.7"/><circle cx="74.58" cy="174.11" r="1.7"/><circle cx="86.56" cy="179.01" r="1.7"/><circle cx="98.54" cy="182.58" r="1.7"/><circle cx="110.52" cy="184.79" r="1.7"/><circle cx="122.5" cy="185.77" r="1.7"/></g></g>
<g><text x="206.8" y="117.7" font-size="5.9" font-weight="bold" text-anchor="middle">DU-145</text><text transform="translate(139.7,160.85) rotate(-90)" font-size="5.9" font-weight="bold" text-anchor="middle">Cell viability (%)</text><text x="153.6" y="191.3" font-size="5.9" font-weight="bold" text-anchor="end">0</text><text x="153.6" y="166.7" font-size="5.9" font-weight="bold" text-anchor="end">50</text><text x="153.6" y="142.1" font-size="5.9" font-weight="bold" text-anchor="end">100</text><text x="156.8" y="203" font-size="5.9" font-weight="bold" text-anchor="middle">0.01</text><text x="176.8" y="203" font-size="5.9" font-weight="bold" text-anchor="middle">0.1</text><text x="196.8" y="203" font-size="5.9" font-weight="bold" text-anchor="middle">1</text><text x="216.8" y="203" font-size="5.9" font-weight="bold" text-anchor="middle">10</text><text x="236.8" y="203" font-size="5.9" font-weight="bold" text-anchor="middle">100</text><text x="256.8" y="203" font-size="5.9" font-weight="bold" text-anchor="middle">1,000</text><path d="M154.8 189.2H156.8M154.8 164.6H156.8M154.8 140H156.8M156.8 194V196.8M176.8 194V196.8M196.8 194V196.8M216.8 194V196.8M236.8 194V196.8M256.8 194V196.8" stroke="#1a1a1a" stroke-width="0.9"/><text x="205.1" y="212.4" font-size="5.9" font-weight="bold" text-anchor="middle">Conc. (nmol/L)</text><line x1="158.3" y1="189.2" x2="256.8" y2="189.2" stroke="#333" stroke-width="0.9" stroke-dasharray="0.7 0.8"/><path d="M156.8 127.7V194H256.8" fill="none" stroke="#1a1a1a" stroke-width="1"/><path d="M160.47 138.97L161.67 138.97L162.88 138.97L164.08 138.97L165.29 138.97L166.49 138.97L167.7 138.97L168.9 138.97L170.1 138.97L171.31 138.97L172.51 138.97L173.72 138.97L174.92 138.97L176.12 138.97L177.33 138.97L178.53 138.97L179.74 138.97L180.94 138.97L182.14 138.97L183.35 138.97L184.55 138.97L185.76 138.97L186.96 138.97L188.17 138.98L189.37 138.99L190.57 139L191.78 139.01L192.98 139.03L194.19 139.06L195.39 139.1L196.59 139.17L197.8 139.27L199 139.41L200.21 139.61L201.41 139.91L202.61 140.35L203.82 140.98L205.02 141.87L206.23 143.12L207.43 144.84L208.64 147.13L209.84 150.06L211.04 153.65L212.25 157.77L213.45 162.21L214.66 166.63L215.86 170.73L217.06 174.28L218.27 177.19L219.47 179.44L220.68 181.13L221.88 182.36L223.08 183.24L224.29 183.86L225.49 184.28L226.7 184.58L227.9 184.78L229.11 184.92L230.31 185.01L231.51 185.08L232.72 185.12L233.92 185.15L235.13 185.17L236.33 185.18L237.53 185.19L238.74 185.2L239.94 185.2L241.15 185.21L242.35 185.21L243.55 185.21L244.76 185.21L245.96 185.21L247.17 185.21L248.37 185.21L249.58 185.21L250.78 185.21L251.98 185.21L253.19 185.21L254.39 185.21L255.6 185.21L256.8 185.21" fill="none" stroke="#53565c" stroke-width="1.05"/><g fill="#53565c"><circle cx="160.47" cy="139.02" r="1.7"/><circle cx="172.51" cy="139.02" r="1.7"/><circle cx="184.55" cy="139.02" r="1.7"/><circle cx="196.59" cy="139.02" r="1.7"/><circle cx="208.64" cy="147.13" r="1.7"/><circle cx="220.68" cy="181.13" r="1.7"/><circle cx="232.72" cy="185.02" r="1.7"/><circle cx="244.76" cy="185.26" r="1.7"/><circle cx="256.8" cy="185.26" r="1.7"/></g><path d="M160.47 138.74L161.67 138.74L162.88 138.74L164.08 138.74L165.29 138.74L166.49 138.74L167.7 138.74L168.9 138.74L170.1 138.74L171.31 138.74L172.51 138.74L173.72 138.74L174.92 138.74L176.12 138.74L177.33 138.74L178.53 138.74L179.74 138.74L180.94 138.74L182.14 138.75L183.35 138.75L184.55 138.76L185.76 138.77L186.96 138.79L188.17 138.81L189.37 138.85L190.57 138.91L191.78 138.99L192.98 139.11L194.19 139.28L195.39 139.54L196.59 139.91L197.8 140.46L199 141.23L200.21 142.33L201.41 143.84L202.61 145.88L203.82 148.52L205.02 151.77L206.23 155.56L207.43 159.67L208.64 163.81L209.84 167.69L211.04 171.06L212.25 173.83L213.45 175.99L214.66 177.6L215.86 178.78L217.06 179.61L218.27 180.2L219.47 180.6L220.68 180.88L221.88 181.07L223.08 181.2L224.29 181.29L225.49 181.35L226.7 181.39L227.9 181.41L229.11 181.43L230.31 181.45L231.51 181.45L232.72 181.46L233.92 181.46L235.13 181.47L236.33 181.47L237.53 181.47L238.74 181.47L239.94 181.47L241.15 181.47L242.35 181.47L243.55 181.47L244.76 181.47L245.96 181.47L247.17 181.47L248.37 181.47L249.58 181.47L250.78 181.47L251.98 181.47L253.19 181.47L254.39 181.47L255.6 181.47L256.8 181.47" fill="none" stroke="#6a6ad8" stroke-width="1.05"/><path d="M208.64 161.55V166.47M207.34 161.55H209.94M207.34 166.47H209.94" stroke="#6a6ad8" stroke-width="0.8" fill="none"/><g fill="#6a6ad8"><circle cx="160.47" cy="139.02" r="1.7"/><circle cx="172.51" cy="139.02" r="1.7"/><circle cx="184.55" cy="139.02" r="1.7"/><circle cx="196.59" cy="139.02" r="1.7"/><circle cx="208.64" cy="164.01" r="1.7"/><circle cx="220.68" cy="179.11" r="1.7"/><circle cx="232.72" cy="182.02" r="1.7"/><circle cx="244.76" cy="182.02" r="1.7"/><circle cx="256.8" cy="182.02" r="1.7"/></g><path d="M160.47 140.27L161.67 140.27L162.88 140.27L164.08 140.27L165.29 140.27L166.49 140.27L167.7 140.27L168.9 140.27L170.1 140.27L171.31 140.27L172.51 140.27L173.72 140.27L174.92 140.27L176.12 140.27L177.33 140.27L178.53 140.27L179.74 140.27L180.94 140.28L182.14 140.28L183.35 140.31L184.55 140.35L185.76 140.45L186.96 140.66L188.17 141.12L189.37 142.09L190.57 144.06L191.78 147.8L192.98 154.02L194.19 162.41L195.39 171.01L196.59 177.69L197.8 181.82L199 184.04L200.21 185.14L201.41 185.67L202.61 185.91L203.82 186.02L205.02 186.08L206.23 186.1L207.43 186.11L208.64 186.12L209.84 186.12L211.04 186.12L212.25 186.12L213.45 186.12L214.66 186.12L215.86 186.12L217.06 186.12L218.27 186.12L219.47 186.12L220.68 186.12L221.88 186.12L223.08 186.12L224.29 186.12L225.49 186.12L226.7 186.12L227.9 186.12L229.11 186.12L230.31 186.12L231.51 186.12L232.72 186.12L233.92 186.12L235.13 186.12L236.33 186.12L237.53 186.12L238.74 186.12L239.94 186.12L241.15 186.12L242.35 186.12L243.55 186.12L244.76 186.12L245.96 186.12L247.17 186.12L248.37 186.12L249.58 186.12L250.78 186.12L251.98 186.12L253.19 186.12L254.39 186.12L255.6 186.12L256.8 186.12" fill="none" stroke="#e4522a" stroke-width="1.05"/><g fill="#e4522a"><circle cx="160.47" cy="140.3" r="1.7"/><circle cx="172.51" cy="140.3" r="1.7"/><circle cx="184.55" cy="140.3" r="1.7"/><circle cx="196.59" cy="177.69" r="1.7"/><circle cx="208.64" cy="185.02" r="1.7"/><circle cx="220.68" cy="186.4" r="1.7"/><circle cx="232.72" cy="186.4" r="1.7"/><circle cx="244.76" cy="186.4" r="1.7"/><circle cx="256.8" cy="186.4" r="1.7"/></g></g>
<g><text x="333.55" y="117.7" font-size="5.9" font-weight="bold" text-anchor="middle">SW-620</text><text transform="translate(266.7,160.85) rotate(-90)" font-size="5.9" font-weight="bold" text-anchor="middle">Cell viability (%)</text><text x="280.6" y="191.3" font-size="5.9" font-weight="bold" text-anchor="end">0</text><text x="280.6" y="166.7" font-size="5.9" font-weight="bold" text-anchor="end">50</text><text x="280.6" y="142.1" font-size="5.9" font-weight="bold" text-anchor="end">100</text><text x="283.8" y="203" font-size="5.9" font-weight="bold" text-anchor="middle">0.01</text><text x="303.7" y="203" font-size="5.9" font-weight="bold" text-anchor="middle">0.1</text><text x="323.6" y="203" font-size="5.9" font-weight="bold" text-anchor="middle">1</text><text x="343.5" y="203" font-size="5.9" font-weight="bold" text-anchor="middle">10</text><text x="363.4" y="203" font-size="5.9" font-weight="bold" text-anchor="middle">100</text><text x="383.3" y="203" font-size="5.9" font-weight="bold" text-anchor="middle">1,000</text><path d="M281.8 189.2H283.8M281.8 164.6H283.8M281.8 140H283.8M283.8 194V196.8M303.7 194V196.8M323.6 194V196.8M343.5 194V196.8M363.4 194V196.8M383.3 194V196.8" stroke="#1a1a1a" stroke-width="0.9"/><text x="334.65" y="212.4" font-size="5.9" font-weight="bold" text-anchor="middle">Conc. (nmol/L)</text><line x1="285.3" y1="189.2" x2="383.3" y2="189.2" stroke="#333" stroke-width="0.9" stroke-dasharray="0.7 0.8"/><path d="M283.8 127.7V194H383.3" fill="none" stroke="#1a1a1a" stroke-width="1"/><path d="M287.45 140.79L288.65 140.79L289.85 140.79L291.05 140.79L292.24 140.79L293.44 140.79L294.64 140.79L295.84 140.79L297.04 140.79L298.23 140.79L299.43 140.8L300.63 140.8L301.83 140.81L303.03 140.82L304.23 140.83L305.42 140.86L306.62 140.9L307.82 140.95L309.02 141.04L310.22 141.18L311.41 141.39L312.61 141.7L313.81 142.19L315.01 142.91L316.21 143.98L317.4 145.54L318.6 147.72L319.8 150.65L321 154.38L322.2 158.79L323.4 163.57L324.59 168.31L325.79 172.6L326.99 176.17L328.19 178.94L329.39 180.97L330.58 182.41L331.78 183.4L332.98 184.07L334.18 184.51L335.38 184.8L336.57 184.99L337.77 185.12L338.97 185.2L340.17 185.25L341.37 185.29L342.56 185.31L343.76 185.32L344.96 185.33L346.16 185.34L347.36 185.34L348.56 185.34L349.75 185.35L350.95 185.35L352.15 185.35L353.35 185.35L354.55 185.35L355.74 185.35L356.94 185.35L358.14 185.35L359.34 185.35L360.54 185.35L361.73 185.35L362.93 185.35L364.13 185.35L365.33 185.35L366.53 185.35L367.72 185.35L368.92 185.35L370.12 185.35L371.32 185.35L372.52 185.35L373.72 185.35L374.91 185.35L376.11 185.35L377.31 185.35L378.51 185.35L379.71 185.35L380.9 185.35L382.1 185.35L383.3 185.35" fill="none" stroke="#53565c" stroke-width="1.05"/><g fill="#53565c"><circle cx="287.45" cy="140.98" r="1.7"/><circle cx="299.43" cy="140.98" r="1.7"/><circle cx="311.41" cy="140.98" r="1.7"/><circle cx="323.4" cy="163.62" r="1.7"/><circle cx="335.38" cy="184.38" r="1.7"/><circle cx="347.36" cy="185.02" r="1.7"/><circle cx="359.34" cy="185.26" r="1.7"/><circle cx="371.32" cy="185.76" r="1.7"/><circle cx="383.3" cy="185.76" r="1.7"/></g><path d="M287.45 139.26L288.65 139.26L289.85 139.26L291.05 139.26L292.24 139.26L293.44 139.26L294.64 139.26L295.84 139.26L297.04 139.26L298.23 139.26L299.43 139.26L300.63 139.27L301.83 139.27L303.03 139.27L304.23 139.28L305.42 139.29L306.62 139.3L307.82 139.32L309.02 139.36L310.22 139.42L311.41 139.53L312.61 139.69L313.81 139.95L315.01 140.37L316.21 141.04L317.4 142.07L318.6 143.65L319.8 145.97L321 149.21L322.2 153.42L323.4 158.39L324.59 163.68L325.79 168.68L326.99 172.93L328.19 176.21L329.39 178.57L330.58 180.18L331.78 181.24L332.98 181.92L334.18 182.35L335.38 182.61L336.57 182.78L337.77 182.88L338.97 182.95L340.17 182.99L341.37 183.01L342.56 183.03L343.76 183.04L344.96 183.04L346.16 183.04L347.36 183.05L348.56 183.05L349.75 183.05L350.95 183.05L352.15 183.05L353.35 183.05L354.55 183.05L355.74 183.05L356.94 183.05L358.14 183.05L359.34 183.05L360.54 183.05L361.73 183.05L362.93 183.05L364.13 183.05L365.33 183.05L366.53 183.05L367.72 183.05L368.92 183.05L370.12 183.05L371.32 183.05L372.52 183.05L373.72 183.05L374.91 183.05L376.11 183.05L377.31 183.05L378.51 183.05L379.71 183.05L380.9 183.05L382.1 183.05L383.3 183.05" fill="none" stroke="#6a6ad8" stroke-width="1.05"/><g fill="#6a6ad8"><circle cx="287.45" cy="139.31" r="1.7"/><circle cx="299.43" cy="139.56" r="1.7"/><circle cx="311.41" cy="138.52" r="1.7"/><circle cx="323.4" cy="161.99" r="1.7"/><circle cx="335.38" cy="180.69" r="1.7"/><circle cx="347.36" cy="179.11" r="1.7"/><circle cx="359.34" cy="181.13" r="1.7"/><circle cx="371.32" cy="184.38" r="1.7"/><circle cx="383.3" cy="183.3" r="1.7"/></g><path d="M287.45 141.16L288.65 141.17L289.85 141.18L291.05 141.19L292.24 141.21L293.44 141.24L294.64 141.28L295.84 141.35L297.04 141.46L298.23 141.61L299.43 141.84L300.63 142.18L301.83 142.7L303.03 143.45L304.23 144.53L305.42 146.08L306.62 148.2L307.82 151.03L309.02 154.59L310.22 158.8L311.41 163.42L312.61 168.08L313.81 172.41L315.01 176.13L316.21 179.12L317.4 181.39L318.6 183.05L319.8 184.23L321 185.05L322.2 185.61L323.4 185.98L324.59 186.23L325.79 186.4L326.99 186.52L328.19 186.59L329.39 186.64L330.58 186.67L331.78 186.69L332.98 186.71L334.18 186.72L335.38 186.72L336.57 186.73L337.77 186.73L338.97 186.73L340.17 186.73L341.37 186.74L342.56 186.74L343.76 186.74L344.96 186.74L346.16 186.74L347.36 186.74L348.56 186.74L349.75 186.74L350.95 186.74L352.15 186.74L353.35 186.74L354.55 186.74L355.74 186.74L356.94 186.74L358.14 186.74L359.34 186.74L360.54 186.74L361.73 186.74L362.93 186.74L364.13 186.74L365.33 186.74L366.53 186.74L367.72 186.74L368.92 186.74L370.12 186.74L371.32 186.74L372.52 186.74L373.72 186.74L374.91 186.74L376.11 186.74L377.31 186.74L378.51 186.74L379.71 186.74L380.9 186.74L382.1 186.74L383.3 186.74" fill="none" stroke="#e4522a" stroke-width="1.05"/><g fill="#e4522a"><circle cx="287.45" cy="141.18" r="1.7"/><circle cx="299.43" cy="141.82" r="1.7"/><circle cx="311.41" cy="163.42" r="1.7"/><circle cx="323.4" cy="186" r="1.7"/><circle cx="335.38" cy="185.61" r="1.7"/><circle cx="347.36" cy="185.76" r="1.7"/><circle cx="359.34" cy="185.76" r="1.7"/><circle cx="371.32" cy="188.02" r="1.7"/><circle cx="383.3" cy="188.51" r="1.7"/></g></g>
<g><text x="460.32" y="117.7" font-size="5.9" font-weight="bold" text-anchor="middle">SKOV3</text><text transform="translate(392.7,161.23) rotate(-90)" font-size="5.9" font-weight="bold" text-anchor="middle">Cell viability (%)</text><text x="407.5" y="191.8" font-size="5.9" font-weight="bold" text-anchor="end">0</text><text x="407.5" y="167.1" font-size="5.9" font-weight="bold" text-anchor="end">50</text><text x="407.5" y="142.4" font-size="5.9" font-weight="bold" text-anchor="end">100</text><text x="410.7" y="203.52" font-size="5.9" font-weight="bold" text-anchor="middle">0.01</text><text x="430.55" y="203.52" font-size="5.9" font-weight="bold" text-anchor="middle">0.1</text><text x="450.4" y="203.52" font-size="5.9" font-weight="bold" text-anchor="middle">1</text><text x="470.25" y="203.52" font-size="5.9" font-weight="bold" text-anchor="middle">10</text><text x="490.1" y="203.52" font-size="5.9" font-weight="bold" text-anchor="middle">100</text><text x="509.95" y="203.52" font-size="5.9" font-weight="bold" text-anchor="middle">1,000</text><path d="M408.7 189.7H410.7M408.7 165H410.7M408.7 140.3H410.7M410.7 194.52V197.32M430.55 194.52V197.32M450.4 194.52V197.32M470.25 194.52V197.32M490.1 194.52V197.32M509.95 194.52V197.32" stroke="#1a1a1a" stroke-width="0.9"/><text x="460.32" y="212.92" font-size="5.9" font-weight="bold" text-anchor="middle">Conc. (nmol/L)</text><line x1="412.2" y1="189.7" x2="509.95" y2="189.7" stroke="#333" stroke-width="0.9" stroke-dasharray="0.7 0.8"/><path d="M410.7 127.95V194.52H509.95" fill="none" stroke="#1a1a1a" stroke-width="1"/><path d="M414.34 140.43L415.54 140.43L416.73 140.43L417.93 140.43L419.12 140.43L420.32 140.43L421.51 140.43L422.71 140.43L423.9 140.43L425.1 140.43L426.29 140.43L427.49 140.43L428.68 140.43L429.88 140.43L431.07 140.43L432.27 140.43L433.46 140.43L434.66 140.44L435.85 140.44L437.05 140.44L438.24 140.44L439.44 140.45L440.63 140.45L441.83 140.46L443.03 140.47L444.22 140.48L445.42 140.49L446.61 140.51L447.81 140.53L449 140.56L450.2 140.59L451.39 140.64L452.59 140.69L453.78 140.76L454.98 140.85L456.17 140.97L457.37 141.11L458.56 141.29L459.76 141.51L460.95 141.8L462.15 142.15L463.34 142.59L464.54 143.13L465.73 143.79L466.93 144.6L468.12 145.56L469.32 146.7L470.51 148.03L471.71 149.54L472.9 151.24L474.1 153.1L475.29 155.07L476.49 157.12L477.68 159.18L478.88 161.2L480.07 163.12L481.27 164.9L482.46 166.51L483.66 167.93L484.85 169.16L486.05 170.2L487.24 171.08L488.44 171.81L489.63 172.41L490.83 172.9L492.02 173.29L493.22 173.6L494.41 173.86L495.61 174.06L496.8 174.22L498 174.34L499.19 174.44L500.39 174.52L501.58 174.59L502.78 174.64L503.97 174.68L505.17 174.71L506.36 174.73L507.56 174.75L508.75 174.76L509.95 174.78" fill="none" stroke="#53565c" stroke-width="1.05"/><path d="M414.34 139.07V142.03M413.04 139.07H415.64M413.04 142.03H415.64M462.15 140.3V143.26M460.85 140.3H463.45M460.85 143.26H463.45M474.1 151.71V154.68M472.8 151.71H475.4M472.8 154.68H475.4M486.05 169.3V171.27M484.75 169.3H487.35M484.75 171.27H487.35" stroke="#53565c" stroke-width="0.8" fill="none"/><g fill="#53565c"><circle cx="414.34" cy="140.55" r="1.7"/><circle cx="426.29" cy="140.55" r="1.7"/><circle cx="438.24" cy="140.55" r="1.7"/><circle cx="450.2" cy="140.55" r="1.7"/><circle cx="462.15" cy="141.78" r="1.7"/><circle cx="474.1" cy="153.19" r="1.7"/><circle cx="486.05" cy="170.29" r="1.7"/><circle cx="498" cy="173.2" r="1.7"/><circle cx="509.95" cy="175.82" r="1.7"/></g><path d="M414.34 140.17L415.54 140.17L416.73 140.17L417.93 140.18L419.12 140.18L420.32 140.18L421.51 140.18L422.71 140.19L423.9 140.19L425.1 140.2L426.29 140.2L427.49 140.21L428.68 140.22L429.88 140.23L431.07 140.25L432.27 140.27L433.46 140.29L434.66 140.31L435.85 140.34L437.05 140.38L438.24 140.43L439.44 140.48L440.63 140.55L441.83 140.63L443.03 140.73L444.22 140.84L445.42 140.98L446.61 141.15L447.81 141.35L449 141.6L450.2 141.89L451.39 142.23L452.59 142.64L453.78 143.12L454.98 143.69L456.17 144.36L457.37 145.13L458.56 146.01L459.76 147.02L460.95 148.16L462.15 149.43L463.34 150.83L464.54 152.34L465.73 153.96L466.93 155.65L468.12 157.4L469.32 159.16L470.51 160.92L471.71 162.63L472.9 164.27L474.1 165.81L475.29 167.24L476.49 168.54L477.68 169.72L478.88 170.76L480.07 171.68L481.27 172.48L482.46 173.17L483.66 173.76L484.85 174.26L486.05 174.69L487.24 175.05L488.44 175.36L489.63 175.61L490.83 175.82L492.02 176L493.22 176.15L494.41 176.27L495.61 176.37L496.8 176.46L498 176.53L499.19 176.58L500.39 176.63L501.58 176.67L502.78 176.7L503.97 176.73L505.17 176.75L506.36 176.77L507.56 176.79L508.75 176.8L509.95 176.81" fill="none" stroke="#6a6ad8" stroke-width="1.05"/><g fill="#6a6ad8"><circle cx="414.34" cy="140.55" r="1.7"/><circle cx="426.29" cy="140.55" r="1.7"/><circle cx="438.24" cy="140.55" r="1.7"/><circle cx="450.2" cy="140.79" r="1.7"/><circle cx="462.15" cy="149.69" r="1.7"/><circle cx="474.1" cy="165.99" r="1.7"/><circle cx="486.05" cy="174.19" r="1.7"/><circle cx="498" cy="175.18" r="1.7"/><circle cx="509.95" cy="178.49" r="1.7"/></g><path d="M414.34 140.64L415.54 140.65L416.73 140.65L417.93 140.65L419.12 140.65L420.32 140.66L421.51 140.66L422.71 140.66L423.9 140.67L425.1 140.68L426.29 140.69L427.49 140.7L428.68 140.72L429.88 140.74L431.07 140.77L432.27 140.8L433.46 140.84L434.66 140.9L435.85 140.96L437.05 141.05L438.24 141.15L439.44 141.29L440.63 141.45L441.83 141.66L443.03 141.92L444.22 142.24L445.42 142.63L446.61 143.12L447.81 143.72L449 144.44L450.2 145.31L451.39 146.35L452.59 147.57L453.78 148.98L454.98 150.58L456.17 152.37L457.37 154.31L458.56 156.38L459.76 158.53L460.95 160.69L462.15 162.82L463.34 164.85L464.54 166.75L465.73 168.48L466.93 170.02L468.12 171.37L469.32 172.52L470.51 173.51L471.71 174.33L472.9 175.01L474.1 175.57L475.29 176.02L476.49 176.39L477.68 176.69L478.88 176.93L480.07 177.12L481.27 177.28L482.46 177.4L483.66 177.5L484.85 177.58L486.05 177.64L487.24 177.69L488.44 177.73L489.63 177.76L490.83 177.78L492.02 177.8L493.22 177.82L494.41 177.83L495.61 177.84L496.8 177.85L498 177.85L499.19 177.86L500.39 177.86L501.58 177.86L502.78 177.87L503.97 177.87L505.17 177.87L506.36 177.87L507.56 177.87L508.75 177.87L509.95 177.87" fill="none" stroke="#e4522a" stroke-width="1.05"/><path d="M438.24 140.3V143.26M436.94 140.3H439.54M436.94 143.26H439.54M462.15 162.04V165.99M460.85 162.04H463.45M460.85 165.99H463.45M474.1 172.61V174.58M472.8 172.61H475.4M472.8 174.58H475.4" stroke="#e4522a" stroke-width="0.8" fill="none"/><g fill="#e4522a"><circle cx="414.34" cy="140.84" r="1.7"/><circle cx="426.29" cy="140.84" r="1.7"/><circle cx="438.24" cy="141.78" r="1.7"/><circle cx="450.2" cy="143.81" r="1.7"/><circle cx="462.15" cy="164.01" r="1.7"/><circle cx="474.1" cy="173.6" r="1.7"/><circle cx="486.05" cy="175.18" r="1.7"/><circle cx="498" cy="176.51" r="1.7"/><circle cx="509.95" cy="182.98" r="1.7"/></g></g>
<g><text x="72.62" y="221.4" font-size="5.9" font-weight="bold" text-anchor="middle">N87</text><text transform="translate(5.9,264.79) rotate(-90)" font-size="5.9" font-weight="bold" text-anchor="middle">Cell viability (%)</text><text x="19.8" y="295.3" font-size="5.9" font-weight="bold" text-anchor="end">0</text><text x="19.8" y="270.65" font-size="5.9" font-weight="bold" text-anchor="end">50</text><text x="19.8" y="246" font-size="5.9" font-weight="bold" text-anchor="end">100</text><text x="23" y="307.01" font-size="5.9" font-weight="bold" text-anchor="middle">0.01</text><text x="42.85" y="307.01" font-size="5.9" font-weight="bold" text-anchor="middle">0.1</text><text x="62.7" y="307.01" font-size="5.9" font-weight="bold" text-anchor="middle">1</text><text x="82.55" y="307.01" font-size="5.9" font-weight="bold" text-anchor="middle">10</text><text x="102.4" y="307.01" font-size="5.9" font-weight="bold" text-anchor="middle">100</text><text x="122.25" y="307.01" font-size="5.9" font-weight="bold" text-anchor="middle">1,000</text><path d="M21 293.2H23M21 268.55H23M21 243.9H23M23 298.01V300.81M42.85 298.01V300.81M62.7 298.01V300.81M82.55 298.01V300.81M102.4 298.01V300.81M122.25 298.01V300.81" stroke="#1a1a1a" stroke-width="0.9"/><text x="73.72" y="316.41" font-size="5.9" font-weight="bold" text-anchor="middle">Conc. (nmol/L)</text><line x1="24.5" y1="293.2" x2="122.25" y2="293.2" stroke="#333" stroke-width="0.9" stroke-dasharray="0.7 0.8"/><path d="M23 231.58V298.01H122.25" fill="none" stroke="#1a1a1a" stroke-width="1"/><path d="M26.64 245.68L27.84 245.68L29.03 245.68L30.23 245.68L31.42 245.68L32.62 245.68L33.81 245.68L35.01 245.68L36.2 245.68L37.4 245.68L38.59 245.68L39.79 245.69L40.98 245.69L42.18 245.69L43.37 245.7L44.57 245.7L45.76 245.71L46.96 245.72L48.15 245.73L49.35 245.75L50.54 245.77L51.74 245.79L52.93 245.82L54.13 245.86L55.33 245.9L56.52 245.96L57.72 246.03L58.91 246.12L60.11 246.23L61.3 246.37L62.5 246.54L63.69 246.75L64.89 247.01L66.08 247.33L67.28 247.73L68.47 248.22L69.67 248.81L70.86 249.52L72.06 250.38L73.25 251.39L74.45 252.57L75.64 253.93L76.84 255.48L78.03 257.2L79.23 259.08L80.42 261.08L81.62 263.17L82.81 265.28L84.01 267.38L85.2 269.4L86.4 271.31L87.59 273.06L88.79 274.64L89.98 276.04L91.18 277.26L92.37 278.3L93.57 279.19L94.76 279.93L95.96 280.54L97.15 281.05L98.35 281.46L99.54 281.8L100.74 282.07L101.93 282.29L103.13 282.47L104.32 282.61L105.52 282.73L106.71 282.82L107.91 282.9L109.1 282.96L110.3 283L111.49 283.04L112.69 283.07L113.88 283.1L115.08 283.12L116.27 283.13L117.47 283.14L118.66 283.15L119.86 283.16L121.05 283.17L122.25 283.17" fill="none" stroke="#53565c" stroke-width="1.05"/><g fill="#53565c"><circle cx="26.64" cy="245.87" r="1.7"/><circle cx="38.59" cy="245.87" r="1.7"/><circle cx="50.54" cy="245.87" r="1.7"/><circle cx="62.5" cy="245.87" r="1.7"/><circle cx="74.45" cy="252.68" r="1.7"/><circle cx="86.4" cy="270.92" r="1.7"/><circle cx="98.35" cy="281.12" r="1.7"/><circle cx="110.3" cy="282.35" r="1.7"/><circle cx="122.25" cy="282.85" r="1.7"/></g><path d="M26.64 244.39L27.84 244.39L29.03 244.4L30.23 244.4L31.42 244.4L32.62 244.4L33.81 244.4L35.01 244.4L36.2 244.4L37.4 244.4L38.59 244.41L39.79 244.41L40.98 244.42L42.18 244.42L43.37 244.43L44.57 244.44L45.76 244.45L46.96 244.47L48.15 244.49L49.35 244.52L50.54 244.55L51.74 244.59L52.93 244.64L54.13 244.71L55.33 244.79L56.52 244.9L57.72 245.03L58.91 245.19L60.11 245.4L61.3 245.66L62.5 245.98L63.69 246.38L64.89 246.87L66.08 247.47L67.28 248.21L68.47 249.09L69.67 250.14L70.86 251.37L72.06 252.8L73.25 254.41L74.45 256.21L75.64 258.16L76.84 260.23L78.03 262.35L79.23 264.49L80.42 266.57L81.62 268.55L82.81 270.37L84.01 272.03L85.2 273.49L86.4 274.76L87.59 275.84L88.79 276.76L89.98 277.52L91.18 278.14L92.37 278.65L93.57 279.07L94.76 279.41L95.96 279.67L97.15 279.89L98.35 280.06L99.54 280.2L100.74 280.31L101.93 280.4L103.13 280.47L104.32 280.52L105.52 280.56L106.71 280.6L107.91 280.62L109.1 280.65L110.3 280.66L111.49 280.68L112.69 280.69L113.88 280.7L115.08 280.7L116.27 280.71L117.47 280.71L118.66 280.71L119.86 280.72L121.05 280.72L122.25 280.72" fill="none" stroke="#6a6ad8" stroke-width="1.05"/><g fill="#6a6ad8"><circle cx="26.64" cy="244.89" r="1.7"/><circle cx="38.59" cy="242.91" r="1.7"/><circle cx="50.54" cy="244.89" r="1.7"/><circle cx="62.5" cy="245.87" r="1.7"/><circle cx="74.45" cy="255.58" r="1.7"/><circle cx="86.4" cy="274.22" r="1.7"/><circle cx="98.35" cy="278.61" r="1.7"/><circle cx="110.3" cy="280.09" r="1.7"/><circle cx="122.25" cy="280.09" r="1.7"/></g><path d="M26.64 246.11L27.84 246.11L29.03 246.11L30.23 246.12L31.42 246.13L32.62 246.13L33.81 246.14L35.01 246.16L36.2 246.17L37.4 246.19L38.59 246.21L39.79 246.24L40.98 246.28L42.18 246.33L43.37 246.38L44.57 246.46L45.76 246.54L46.96 246.65L48.15 246.79L49.35 246.95L50.54 247.16L51.74 247.42L52.93 247.73L54.13 248.11L55.33 248.57L56.52 249.13L57.72 249.81L58.91 250.62L60.11 251.57L61.3 252.69L62.5 253.98L63.69 255.45L64.89 257.1L66.08 258.9L67.28 260.84L68.47 262.88L69.67 264.98L70.86 267.08L72.06 269.14L73.25 271.1L74.45 272.94L75.64 274.63L76.84 276.14L78.03 277.47L79.23 278.63L80.42 279.62L81.62 280.46L82.81 281.17L84.01 281.76L85.2 282.24L86.4 282.64L87.59 282.97L88.79 283.24L89.98 283.45L91.18 283.63L92.37 283.77L93.57 283.89L94.76 283.98L95.96 284.05L97.15 284.11L98.35 284.16L99.54 284.2L100.74 284.23L101.93 284.26L103.13 284.28L104.32 284.29L105.52 284.31L106.71 284.32L107.91 284.33L109.1 284.33L110.3 284.34L111.49 284.34L112.69 284.35L113.88 284.35L115.08 284.35L116.27 284.35L117.47 284.35L118.66 284.36L119.86 284.36L121.05 284.36L122.25 284.36" fill="none" stroke="#e4522a" stroke-width="1.05"/><path d="M26.64 239.96V249.82M25.34 239.96H27.94M25.34 249.82H27.94M38.59 244.89V250.8M37.29 244.89H39.89M37.29 250.8H39.89M50.54 244.89V248.83M49.24 244.89H51.84M49.24 248.83H51.84M62.5 252.28V255.24M61.2 252.28H63.8M61.2 255.24H63.8" stroke="#e4522a" stroke-width="0.8" fill="none"/><g fill="#e4522a"><circle cx="26.64" cy="244.89" r="1.7"/><circle cx="38.59" cy="247.84" r="1.7"/><circle cx="50.54" cy="246.86" r="1.7"/><circle cx="62.5" cy="253.76" r="1.7"/><circle cx="74.45" cy="273.28" r="1.7"/><circle cx="86.4" cy="282.11" r="1.7"/><circle cx="98.35" cy="282.7" r="1.7"/><circle cx="110.3" cy="283.09" r="1.7"/><circle cx="122.25" cy="287.38" r="1.7"/></g></g>
<g><text x="207.05" y="221.4" font-size="5.9" font-weight="bold" text-anchor="middle">OE19</text><text transform="translate(140.2,264.65) rotate(-90)" font-size="5.9" font-weight="bold" text-anchor="middle">Cell viability (%)</text><text x="154.1" y="295.1" font-size="5.9" font-weight="bold" text-anchor="end">0</text><text x="154.1" y="270.5" font-size="5.9" font-weight="bold" text-anchor="end">50</text><text x="154.1" y="245.9" font-size="5.9" font-weight="bold" text-anchor="end">100</text><text x="157.3" y="306.8" font-size="5.9" font-weight="bold" text-anchor="middle">0.01</text><text x="177.2" y="306.8" font-size="5.9" font-weight="bold" text-anchor="middle">0.1</text><text x="197.1" y="306.8" font-size="5.9" font-weight="bold" text-anchor="middle">1</text><text x="217" y="306.8" font-size="5.9" font-weight="bold" text-anchor="middle">10</text><text x="236.9" y="306.8" font-size="5.9" font-weight="bold" text-anchor="middle">100</text><text x="256.8" y="306.8" font-size="5.9" font-weight="bold" text-anchor="middle">1,000</text><path d="M155.3 293H157.3M155.3 268.4H157.3M155.3 243.8H157.3M157.3 297.8V300.6M177.2 297.8V300.6M197.1 297.8V300.6M217 297.8V300.6M236.9 297.8V300.6M256.8 297.8V300.6" stroke="#1a1a1a" stroke-width="0.9"/><text x="208.05" y="316.2" font-size="5.9" font-weight="bold" text-anchor="middle">Conc. (nmol/L)</text><line x1="158.8" y1="293" x2="256.8" y2="293" stroke="#333" stroke-width="0.9" stroke-dasharray="0.7 0.8"/><path d="M157.3 231.5V297.8H256.8" fill="none" stroke="#1a1a1a" stroke-width="1"/><path d="M160.95 243.48L162.15 243.52L163.35 243.55L164.55 243.59L165.74 243.63L166.94 243.67L168.14 243.72L169.34 243.77L170.54 243.82L171.73 243.87L172.93 243.93L174.13 243.99L175.33 244.06L176.53 244.13L177.73 244.2L178.92 244.28L180.12 244.37L181.32 244.46L182.52 244.55L183.72 244.65L184.91 244.76L186.11 244.87L187.31 245L188.51 245.12L189.71 245.26L190.9 245.4L192.1 245.55L193.3 245.72L194.5 245.89L195.7 246.07L196.9 246.26L198.09 246.46L199.29 246.67L200.49 246.89L201.69 247.13L202.89 247.38L204.08 247.64L205.28 247.91L206.48 248.2L207.68 248.5L208.88 248.81L210.07 249.15L211.27 249.49L212.47 249.85L213.67 250.23L214.87 250.62L216.06 251.03L217.26 251.45L218.46 251.89L219.66 252.35L220.86 252.82L222.06 253.31L223.25 253.81L224.45 254.33L225.65 254.86L226.85 255.41L228.05 255.97L229.24 256.54L230.44 257.12L231.64 257.71L232.84 258.32L234.04 258.93L235.23 259.55L236.43 260.17L237.63 260.8L238.83 261.44L240.03 262.07L241.22 262.71L242.42 263.35L243.62 263.98L244.82 264.61L246.02 265.24L247.22 265.86L248.41 266.48L249.61 267.08L250.81 267.68L252.01 268.27L253.21 268.85L254.4 269.41L255.6 269.96L256.8 270.5" fill="none" stroke="#53565c" stroke-width="1.05"/><g fill="#53565c"><circle cx="160.95" cy="244.29" r="1.7"/><circle cx="172.93" cy="246.56" r="1.7"/><circle cx="184.91" cy="245.28" r="1.7"/><circle cx="196.9" cy="244.78" r="1.7"/><circle cx="208.88" cy="244.78" r="1.7"/><circle cx="220.86" cy="258.56" r="1.7"/><circle cx="232.84" cy="259.89" r="1.7"/><circle cx="244.82" cy="263.48" r="1.7"/><circle cx="256.8" cy="271.35" r="1.7"/></g><path d="M160.95 243.06L162.15 243.06L163.35 243.06L164.55 243.06L165.74 243.06L166.94 243.06L168.14 243.06L169.34 243.06L170.54 243.06L171.73 243.06L172.93 243.06L174.13 243.06L175.33 243.06L176.53 243.06L177.73 243.06L178.92 243.06L180.12 243.06L181.32 243.06L182.52 243.06L183.72 243.06L184.91 243.06L186.11 243.06L187.31 243.06L188.51 243.06L189.71 243.06L190.9 243.06L192.1 243.06L193.3 243.06L194.5 243.06L195.7 243.06L196.9 243.06L198.09 243.06L199.29 243.06L200.49 243.06L201.69 243.06L202.89 243.06L204.08 243.06L205.28 243.06L206.48 243.06L207.68 243.06L208.88 243.06L210.07 243.06L211.27 243.06L212.47 243.06L213.67 243.06L214.87 243.06L216.06 243.06L217.26 243.06L218.46 243.06L219.66 243.06L220.86 243.06L222.06 243.06L223.25 243.06L224.45 243.06L225.65 243.06L226.85 243.06L228.05 243.06L229.24 243.06L230.44 243.06L231.64 243.06L232.84 243.06L234.04 243.06L235.23 243.06L236.43 243.06L237.63 243.07L238.83 243.08L240.03 243.12L241.22 243.22L242.42 243.54L243.62 244.45L244.82 246.73L246.02 251.1L247.22 256.3L248.41 259.9L249.61 261.55L250.81 262.17L252.01 262.39L253.21 262.46L254.4 262.48L255.6 262.49L256.8 262.49" fill="none" stroke="#6a6ad8" stroke-width="1.05"/><g fill="#6a6ad8"><circle cx="160.95" cy="243.8" r="1.7"/><circle cx="172.93" cy="243.5" r="1.7"/><circle cx="184.91" cy="243.5" r="1.7"/><circle cx="196.9" cy="243.5" r="1.7"/><circle cx="208.88" cy="243.5" r="1.7"/><circle cx="220.86" cy="241.88" r="1.7"/><circle cx="232.84" cy="242.52" r="1.7"/><circle cx="244.82" cy="247.79" r="1.7"/><circle cx="256.8" cy="262.1" r="1.7"/></g><path d="M160.95 242.76L162.15 242.92L163.35 243.09L164.55 243.26L165.74 243.45L166.94 243.63L168.14 243.83L169.34 244.03L170.54 244.23L171.73 244.45L172.93 244.67L174.13 244.9L175.33 245.14L176.53 245.39L177.73 245.64L178.92 245.91L180.12 246.18L181.32 246.46L182.52 246.75L183.72 247.05L184.91 247.36L186.11 247.68L187.31 248.01L188.51 248.35L189.71 248.7L190.9 249.06L192.1 249.43L193.3 249.81L194.5 250.2L195.7 250.61L196.9 251.02L198.09 251.45L199.29 251.89L200.49 252.34L201.69 252.8L202.89 253.27L204.08 253.76L205.28 254.25L206.48 254.76L207.68 255.28L208.88 255.82L210.07 256.36L211.27 256.92L212.47 257.48L213.67 258.06L214.87 258.65L216.06 259.26L217.26 259.87L218.46 260.49L219.66 261.13L220.86 261.77L222.06 262.42L223.25 263.09L224.45 263.76L225.65 264.44L226.85 265.13L228.05 265.83L229.24 266.54L230.44 267.25L231.64 267.97L232.84 268.69L234.04 269.42L235.23 270.16L236.43 270.9L237.63 271.64L238.83 272.39L240.03 273.14L241.22 273.89L242.42 274.65L243.62 275.4L244.82 276.16L246.02 276.91L247.22 277.66L248.41 278.41L249.61 279.16L250.81 279.91L252.01 280.65L253.21 281.39L254.4 282.12L255.6 282.85L256.8 283.57" fill="none" stroke="#e4522a" stroke-width="1.05"/><path d="M172.93 241.83V247.74M171.63 241.83H174.23M171.63 247.74H174.23M208.88 257.58V263.48M207.58 257.58H210.18M207.58 263.48H210.18" stroke="#e4522a" stroke-width="0.8" fill="none"/><g fill="#e4522a"><circle cx="160.95" cy="243.8" r="1.7"/><circle cx="172.93" cy="244.78" r="1.7"/><circle cx="184.91" cy="245.82" r="1.7"/><circle cx="196.9" cy="251.67" r="1.7"/><circle cx="208.88" cy="260.53" r="1.7"/><circle cx="220.86" cy="261.51" r="1.7"/><circle cx="232.84" cy="267.42" r="1.7"/><circle cx="244.82" cy="276.27" r="1.7"/><circle cx="256.8" cy="288.08" r="1.7"/><circle cx="220.86" cy="263.48" r="1.7"/></g></g>
<g><text x="336.3" y="221.4" font-size="5.9" font-weight="bold" text-anchor="middle">SKGT2</text><text transform="translate(269.2,264.26) rotate(-90)" font-size="5.9" font-weight="bold" text-anchor="middle">Cell viability (%)</text><text x="283.1" y="294.6" font-size="5.9" font-weight="bold" text-anchor="end">0</text><text x="283.1" y="270.1" font-size="5.9" font-weight="bold" text-anchor="end">50</text><text x="283.1" y="245.6" font-size="5.9" font-weight="bold" text-anchor="end">100</text><text x="286.3" y="306.28" font-size="5.9" font-weight="bold" text-anchor="middle">0.01</text><text x="306.3" y="306.28" font-size="5.9" font-weight="bold" text-anchor="middle">0.1</text><text x="326.3" y="306.28" font-size="5.9" font-weight="bold" text-anchor="middle">1</text><text x="346.3" y="306.28" font-size="5.9" font-weight="bold" text-anchor="middle">10</text><text x="366.3" y="306.28" font-size="5.9" font-weight="bold" text-anchor="middle">100</text><text x="386.3" y="306.28" font-size="5.9" font-weight="bold" text-anchor="middle">1,000</text><path d="M284.3 292.5H286.3M284.3 268H286.3M284.3 243.5H286.3M286.3 297.28V300.08M306.3 297.28V300.08M326.3 297.28V300.08M346.3 297.28V300.08M366.3 297.28V300.08M386.3 297.28V300.08" stroke="#1a1a1a" stroke-width="0.9"/><text x="336.9" y="315.68" font-size="5.9" font-weight="bold" text-anchor="middle">Conc. (nmol/L)</text><line x1="287.8" y1="292.5" x2="386.3" y2="292.5" stroke="#333" stroke-width="0.9" stroke-dasharray="0.7 0.8"/><path d="M286.3 231.25V297.28H386.3" fill="none" stroke="#1a1a1a" stroke-width="1"/><path d="M289.97 240.55L291.17 240.56L292.38 240.57L293.58 240.59L294.79 240.6L295.99 240.61L297.2 240.63L298.4 240.65L299.6 240.67L300.81 240.69L302.01 240.71L303.22 240.74L304.42 240.77L305.62 240.8L306.83 240.83L308.03 240.87L309.24 240.91L310.44 240.96L311.64 241L312.85 241.06L314.05 241.12L315.26 241.19L316.46 241.26L317.67 241.34L318.87 241.42L320.07 241.52L321.28 241.62L322.48 241.74L323.69 241.86L324.89 242L326.09 242.15L327.3 242.31L328.5 242.49L329.71 242.69L330.91 242.9L332.11 243.13L333.32 243.39L334.52 243.66L335.73 243.96L336.93 244.28L338.14 244.63L339.34 245.01L340.54 245.43L341.75 245.87L342.95 246.35L344.16 246.86L345.36 247.41L346.56 248L347.77 248.63L348.97 249.3L350.18 250.02L351.38 250.77L352.58 251.57L353.79 252.41L354.99 253.3L356.2 254.22L357.4 255.18L358.61 256.18L359.81 257.22L361.01 258.28L362.22 259.38L363.42 260.49L364.63 261.63L365.83 262.78L367.03 263.94L368.24 265.1L369.44 266.26L370.65 267.41L371.85 268.55L373.05 269.68L374.26 270.78L375.46 271.86L376.67 272.91L377.87 273.92L379.08 274.9L380.28 275.84L381.48 276.74L382.69 277.6L383.89 278.41L385.1 279.19L386.3 279.92" fill="none" stroke="#53565c" stroke-width="1.05"/><g fill="#53565c"><circle cx="289.97" cy="240.81" r="1.7"/><circle cx="302.01" cy="240.81" r="1.7"/><circle cx="314.05" cy="241.05" r="1.7"/><circle cx="326.09" cy="241.78" r="1.7"/><circle cx="338.14" cy="244.77" r="1.7"/><circle cx="350.18" cy="249.67" r="1.7"/><circle cx="362.22" cy="260.01" r="1.7"/><circle cx="374.26" cy="270.25" r="1.7"/><circle cx="386.3" cy="280.1" r="1.7"/></g><path d="M289.97 238.02L291.17 238.02L292.38 238.03L293.58 238.03L294.79 238.04L295.99 238.04L297.2 238.05L298.4 238.06L299.6 238.07L300.81 238.08L302.01 238.09L303.22 238.1L304.42 238.12L305.62 238.13L306.83 238.15L308.03 238.17L309.24 238.2L310.44 238.23L311.64 238.26L312.85 238.29L314.05 238.34L315.26 238.38L316.46 238.43L317.67 238.49L318.87 238.56L320.07 238.64L321.28 238.72L322.48 238.82L323.69 238.93L324.89 239.06L326.09 239.2L327.3 239.36L328.5 239.54L329.71 239.74L330.91 239.97L332.11 240.23L333.32 240.51L334.52 240.84L335.73 241.2L336.93 241.61L338.14 242.06L339.34 242.56L340.54 243.12L341.75 243.74L342.95 244.43L344.16 245.18L345.36 246L346.56 246.9L347.77 247.88L348.97 248.94L350.18 250.07L351.38 251.29L352.58 252.58L353.79 253.94L354.99 255.37L356.2 256.86L357.4 258.4L358.61 259.98L359.81 261.58L361.01 263.2L362.22 264.83L363.42 266.44L364.63 268.03L365.83 269.58L367.03 271.09L368.24 272.53L369.44 273.92L370.65 275.23L371.85 276.47L373.05 277.63L374.26 278.71L375.46 279.71L376.67 280.64L377.87 281.48L379.08 282.26L380.28 282.96L381.48 283.6L382.69 284.18L383.89 284.7L385.1 285.16L386.3 285.58" fill="none" stroke="#6a6ad8" stroke-width="1.05"/><path d="M314.05 234.97V240.85M312.75 234.97H315.35M312.75 240.85H315.35M326.09 234.97V240.85M324.79 234.97H327.39M324.79 240.85H327.39" stroke="#6a6ad8" stroke-width="0.8" fill="none"/><g fill="#6a6ad8"><circle cx="289.97" cy="239.82" r="1.7"/><circle cx="302.01" cy="238.89" r="1.7"/><circle cx="314.05" cy="237.91" r="1.7"/><circle cx="326.09" cy="237.91" r="1.7"/><circle cx="338.14" cy="239.82" r="1.7"/><circle cx="350.18" cy="251.59" r="1.7"/><circle cx="362.22" cy="265.31" r="1.7"/><circle cx="374.26" cy="277.11" r="1.7"/><circle cx="386.3" cy="286.52" r="1.7"/></g><path d="M289.97 241.76L291.17 241.81L292.38 241.87L293.58 241.93L294.79 242L295.99 242.07L297.2 242.15L298.4 242.24L299.6 242.34L300.81 242.44L302.01 242.55L303.22 242.67L304.42 242.81L305.62 242.95L306.83 243.11L308.03 243.27L309.24 243.46L310.44 243.66L311.64 243.87L312.85 244.1L314.05 244.36L315.26 244.63L316.46 244.92L317.67 245.24L318.87 245.58L320.07 245.94L321.28 246.34L322.48 246.76L323.69 247.21L324.89 247.69L326.09 248.21L327.3 248.75L328.5 249.34L329.71 249.96L330.91 250.61L332.11 251.31L333.32 252.04L334.52 252.81L335.73 253.61L336.93 254.45L338.14 255.33L339.34 256.25L340.54 257.19L341.75 258.17L342.95 259.18L344.16 260.21L345.36 261.26L346.56 262.33L347.77 263.42L348.97 264.52L350.18 265.63L351.38 266.74L352.58 267.85L353.79 268.96L354.99 270.05L356.2 271.13L357.4 272.2L358.61 273.24L359.81 274.26L361.01 275.25L362.22 276.21L363.42 277.14L364.63 278.03L365.83 278.89L367.03 279.71L368.24 280.5L369.44 281.25L370.65 281.96L371.85 282.63L373.05 283.27L374.26 283.87L375.46 284.43L376.67 284.97L377.87 285.46L379.08 285.93L380.28 286.36L381.48 286.77L382.69 287.15L383.89 287.5L385.1 287.83L386.3 288.13" fill="none" stroke="#e4522a" stroke-width="1.05"/><g fill="#e4522a"><circle cx="289.97" cy="243.4" r="1.7"/><circle cx="302.01" cy="241.78" r="1.7"/><circle cx="314.05" cy="243.5" r="1.7"/><circle cx="326.09" cy="247.71" r="1.7"/><circle cx="338.14" cy="255.11" r="1.7"/><circle cx="350.18" cy="267.31" r="1.7"/><circle cx="362.22" cy="275.5" r="1.7"/><circle cx="374.26" cy="282.41" r="1.7"/><circle cx="386.3" cy="289.31" r="1.7"/></g></g>
<g><text x="463.15" y="221.4" font-size="5.9" font-weight="bold" text-anchor="middle">HEK293</text><text transform="translate(395.4,264.65) rotate(-90)" font-size="5.9" font-weight="bold" text-anchor="middle">Cell viability (%)</text><text x="410.2" y="295.1" font-size="5.9" font-weight="bold" text-anchor="end">0</text><text x="410.2" y="270.5" font-size="5.9" font-weight="bold" text-anchor="end">50</text><text x="410.2" y="245.9" font-size="5.9" font-weight="bold" text-anchor="end">100</text><text x="413.4" y="306.8" font-size="5.9" font-weight="bold" text-anchor="middle">0.01</text><text x="433.3" y="306.8" font-size="5.9" font-weight="bold" text-anchor="middle">0.1</text><text x="453.2" y="306.8" font-size="5.9" font-weight="bold" text-anchor="middle">1</text><text x="473.1" y="306.8" font-size="5.9" font-weight="bold" text-anchor="middle">10</text><text x="493" y="306.8" font-size="5.9" font-weight="bold" text-anchor="middle">100</text><text x="512.9" y="306.8" font-size="5.9" font-weight="bold" text-anchor="middle">1,000</text><path d="M411.4 293H413.4M411.4 268.4H413.4M411.4 243.8H413.4M413.4 297.8V300.6M433.3 297.8V300.6M453.2 297.8V300.6M473.1 297.8V300.6M493 297.8V300.6M512.9 297.8V300.6" stroke="#1a1a1a" stroke-width="0.9"/><text x="463.15" y="316.2" font-size="5.9" font-weight="bold" text-anchor="middle">Conc. (nmol/L)</text><line x1="414.9" y1="293" x2="512.9" y2="293" stroke="#333" stroke-width="0.9" stroke-dasharray="0.7 0.8"/><path d="M413.4 231.5V297.8H512.9" fill="none" stroke="#1a1a1a" stroke-width="1"/><path d="M417.05 244.77L418.25 244.77L419.45 244.77L420.65 244.77L421.84 244.77L423.04 244.77L424.24 244.77L425.44 244.77L426.64 244.77L427.83 244.77L429.03 244.77L430.23 244.77L431.43 244.77L432.63 244.77L433.83 244.77L435.02 244.77L436.22 244.77L437.42 244.77L438.62 244.77L439.82 244.77L441.01 244.77L442.21 244.77L443.41 244.77L444.61 244.77L445.81 244.77L447 244.77L448.2 244.77L449.4 244.78L450.6 244.78L451.8 244.79L453 244.82L454.19 244.88L455.39 245.02L456.59 245.32L457.79 245.97L458.99 247.34L460.18 250.11L461.38 255.16L462.58 262.9L463.78 272.1L464.98 280.21L466.17 285.69L467.37 288.76L468.57 290.3L469.77 291.03L470.97 291.37L472.16 291.52L473.36 291.59L474.56 291.62L475.76 291.64L476.96 291.64L478.16 291.65L479.35 291.65L480.55 291.65L481.75 291.65L482.95 291.65L484.15 291.65L485.34 291.65L486.54 291.65L487.74 291.65L488.94 291.65L490.14 291.65L491.33 291.65L492.53 291.65L493.73 291.65L494.93 291.65L496.13 291.65L497.32 291.65L498.52 291.65L499.72 291.65L500.92 291.65L502.12 291.65L503.32 291.65L504.51 291.65L505.71 291.65L506.91 291.65L508.11 291.65L509.31 291.65L510.5 291.65L511.7 291.65L512.9 291.65" fill="none" stroke="#53565c" stroke-width="1.05"/><path d="M453 243.31V246.26M451.7 243.31H454.3M451.7 246.26H454.3M464.98 278.24V282.18M463.68 278.24H466.28M463.68 282.18H466.28" stroke="#53565c" stroke-width="0.8" fill="none"/><g fill="#53565c"><circle cx="417.05" cy="244.78" r="1.7"/><circle cx="429.03" cy="244.78" r="1.7"/><circle cx="441.01" cy="244.78" r="1.7"/><circle cx="453" cy="244.78" r="1.7"/><circle cx="464.98" cy="280.21" r="1.7"/><circle cx="476.96" cy="291.28" r="1.7"/><circle cx="488.94" cy="291.77" r="1.7"/><circle cx="500.92" cy="291.77" r="1.7"/><circle cx="512.9" cy="291.77" r="1.7"/></g><path d="M417.05 243.36L418.25 243.36L419.45 243.36L420.65 243.36L421.84 243.36L423.04 243.36L424.24 243.36L425.44 243.36L426.64 243.36L427.83 243.36L429.03 243.36L430.23 243.36L431.43 243.36L432.63 243.36L433.83 243.37L435.02 243.37L436.22 243.38L437.42 243.39L438.62 243.4L439.82 243.42L441.01 243.44L442.21 243.47L443.41 243.51L444.61 243.56L445.81 243.64L447 243.74L448.2 243.87L449.4 244.06L450.6 244.31L451.8 244.64L453 245.09L454.19 245.68L455.39 246.46L456.59 247.49L457.79 248.81L458.99 250.49L460.18 252.57L461.38 255.08L462.58 258.02L463.78 261.32L464.98 264.89L466.17 268.57L467.37 272.19L468.57 275.59L469.77 278.65L470.97 281.29L472.16 283.5L473.36 285.29L474.56 286.71L475.76 287.82L476.96 288.67L478.16 289.32L479.35 289.81L480.55 290.17L481.75 290.44L482.95 290.65L484.15 290.8L485.34 290.91L486.54 290.99L487.74 291.05L488.94 291.09L490.14 291.12L491.33 291.15L492.53 291.16L493.73 291.18L494.93 291.19L496.13 291.19L497.32 291.2L498.52 291.2L499.72 291.21L500.92 291.21L502.12 291.21L503.32 291.21L504.51 291.21L505.71 291.21L506.91 291.21L508.11 291.21L509.31 291.21L510.5 291.21L511.7 291.21L512.9 291.21" fill="none" stroke="#6a6ad8" stroke-width="1.05"/><path d="M429.03 237.9V245.77M427.73 237.9H430.33M427.73 245.77H430.33M453 242.32V247.24M451.7 242.32H454.3M451.7 247.24H454.3" stroke="#6a6ad8" stroke-width="0.8" fill="none"/><g fill="#6a6ad8"><circle cx="417.05" cy="244.29" r="1.7"/><circle cx="429.03" cy="241.83" r="1.7"/><circle cx="441.01" cy="244.29" r="1.7"/><circle cx="453" cy="244.78" r="1.7"/><circle cx="464.98" cy="264.96" r="1.7"/><circle cx="476.96" cy="288.57" r="1.7"/><circle cx="488.94" cy="290.54" r="1.7"/><circle cx="500.92" cy="291.28" r="1.7"/><circle cx="512.9" cy="291.77" r="1.7"/></g><path d="M417.05 245.27L418.25 245.27L419.45 245.27L420.65 245.27L421.84 245.28L423.04 245.28L424.24 245.29L425.44 245.3L426.64 245.31L427.83 245.33L429.03 245.36L430.23 245.39L431.43 245.44L432.63 245.51L433.83 245.6L435.02 245.73L436.22 245.91L437.42 246.15L438.62 246.48L439.82 246.93L441.01 247.54L442.21 248.36L443.41 249.44L444.61 250.84L445.81 252.64L447 254.88L448.2 257.58L449.4 260.72L450.6 264.21L451.8 267.91L453 271.64L454.19 275.2L455.39 278.43L456.59 281.25L457.79 283.6L458.99 285.5L460.18 286.99L461.38 288.15L462.58 289.02L463.78 289.68L464.98 290.16L466.17 290.52L467.37 290.78L468.57 290.97L469.77 291.11L470.97 291.21L472.16 291.29L473.36 291.34L474.56 291.38L475.76 291.41L476.96 291.43L478.16 291.44L479.35 291.45L480.55 291.46L481.75 291.47L482.95 291.47L484.15 291.47L485.34 291.48L486.54 291.48L487.74 291.48L488.94 291.48L490.14 291.48L491.33 291.48L492.53 291.48L493.73 291.48L494.93 291.48L496.13 291.48L497.32 291.48L498.52 291.48L499.72 291.48L500.92 291.48L502.12 291.48L503.32 291.48L504.51 291.48L505.71 291.48L506.91 291.48L508.11 291.48L509.31 291.48L510.5 291.48L511.7 291.48L512.9 291.48" fill="none" stroke="#e4522a" stroke-width="1.05"/><g fill="#e4522a"><circle cx="417.05" cy="245.37" r="1.7"/><circle cx="429.03" cy="245.37" r="1.7"/><circle cx="441.01" cy="247.39" r="1.7"/><circle cx="453" cy="271.7" r="1.7"/><circle cx="464.98" cy="289.9" r="1.7"/><circle cx="476.96" cy="291.52" r="1.7"/><circle cx="488.94" cy="291.52" r="1.7"/><circle cx="500.92" cy="291.52" r="1.7"/><circle cx="512.9" cy="291.52" r="1.7"/></g></g>
<g><text x="72.53" y="324.9" font-size="5.9" font-weight="bold" text-anchor="middle">Karpas299</text><text transform="translate(5.8,365.49) rotate(-90)" font-size="5.9" font-weight="bold" text-anchor="middle">Cell viability (%)</text><text x="19.7" y="396" font-size="5.9" font-weight="bold" text-anchor="end">0</text><text x="19.7" y="371.35" font-size="5.9" font-weight="bold" text-anchor="end">50</text><text x="19.7" y="346.7" font-size="5.9" font-weight="bold" text-anchor="end">100</text><text x="22.9" y="407.71" font-size="5.9" font-weight="bold" text-anchor="middle">0.01</text><text x="42.75" y="407.71" font-size="5.9" font-weight="bold" text-anchor="middle">0.1</text><text x="62.6" y="407.71" font-size="5.9" font-weight="bold" text-anchor="middle">1</text><text x="82.45" y="407.71" font-size="5.9" font-weight="bold" text-anchor="middle">10</text><text x="102.3" y="407.71" font-size="5.9" font-weight="bold" text-anchor="middle">100</text><text x="122.15" y="407.71" font-size="5.9" font-weight="bold" text-anchor="middle">1,000</text><path d="M20.9 393.9H22.9M20.9 369.25H22.9M20.9 344.6H22.9M22.9 398.71V401.51M42.75 398.71V401.51M62.6 398.71V401.51M82.45 398.71V401.51M102.3 398.71V401.51M122.15 398.71V401.51" stroke="#1a1a1a" stroke-width="0.9"/><text x="73.12" y="417.11" font-size="5.9" font-weight="bold" text-anchor="middle">Conc. (nmol/L)</text><line x1="24.4" y1="393.9" x2="122.15" y2="393.9" stroke="#333" stroke-width="0.9" stroke-dasharray="0.7 0.8"/><path d="M22.9 332.28V398.71H122.15" fill="none" stroke="#1a1a1a" stroke-width="1"/><path d="M26.54 343.76L27.74 343.77L28.93 343.78L30.13 343.79L31.32 343.8L32.52 343.82L33.71 343.83L34.91 343.85L36.1 343.88L37.3 343.9L38.49 343.94L39.69 343.97L40.88 344.01L42.08 344.06L43.27 344.12L44.47 344.18L45.66 344.25L46.86 344.34L48.05 344.43L49.25 344.54L50.44 344.67L51.64 344.82L52.83 344.98L54.03 345.18L55.23 345.39L56.42 345.65L57.62 345.93L58.81 346.26L60.01 346.63L61.2 347.04L62.4 347.52L63.59 348.05L64.79 348.65L65.98 349.33L67.18 350.08L68.37 350.91L69.57 351.83L70.76 352.84L71.96 353.94L73.15 355.14L74.35 356.42L75.54 357.8L76.74 359.25L77.93 360.78L79.13 362.37L80.32 364.01L81.52 365.67L82.71 367.36L83.91 369.04L85.1 370.71L86.3 372.34L87.49 373.92L88.69 375.44L89.88 376.88L91.08 378.24L92.27 379.51L93.47 380.69L94.66 381.78L95.86 382.77L97.05 383.68L98.25 384.5L99.44 385.24L100.64 385.9L101.83 386.48L103.03 387.01L104.22 387.47L105.42 387.88L106.61 388.25L107.81 388.56L109 388.84L110.2 389.09L111.39 389.3L112.59 389.49L113.78 389.65L114.98 389.8L116.17 389.92L117.37 390.03L118.56 390.12L119.76 390.21L120.95 390.28L122.15 390.34" fill="none" stroke="#53565c" stroke-width="1.05"/><g fill="#53565c"><circle cx="26.54" cy="344.45" r="1.7"/><circle cx="38.49" cy="344.45" r="1.7"/><circle cx="50.44" cy="344.6" r="1.7"/><circle cx="62.4" cy="345.78" r="1.7"/></g><path d="M26.54 340.77L27.74 340.78L28.93 340.79L30.13 340.8L31.32 340.82L32.52 340.84L33.71 340.86L34.91 340.88L36.1 340.9L37.3 340.93L38.49 340.97L39.69 341.01L40.88 341.05L42.08 341.11L43.27 341.17L44.47 341.24L45.66 341.32L46.86 341.41L48.05 341.52L49.25 341.65L50.44 341.79L51.64 341.95L52.83 342.14L54.03 342.36L55.23 342.6L56.42 342.88L57.62 343.2L58.81 343.57L60.01 343.99L61.2 344.46L62.4 344.99L63.59 345.59L64.79 346.26L65.98 347.02L67.18 347.86L68.37 348.79L69.57 349.82L70.76 350.95L71.96 352.17L73.15 353.5L74.35 354.92L75.54 356.44L76.74 358.04L77.93 359.71L79.13 361.44L80.32 363.21L81.52 365.01L82.71 366.82L83.91 368.61L85.1 370.38L86.3 372.1L87.49 373.76L88.69 375.34L89.88 376.83L91.08 378.24L92.27 379.55L93.47 380.75L94.66 381.86L95.86 382.87L97.05 383.78L98.25 384.6L99.44 385.34L100.64 386L101.83 386.58L103.03 387.1L104.22 387.56L105.42 387.97L106.61 388.32L107.81 388.64L109 388.91L110.2 389.15L111.39 389.36L112.59 389.54L113.78 389.7L114.98 389.84L116.17 389.96L117.37 390.06L118.56 390.15L119.76 390.23L120.95 390.3L122.15 390.36" fill="none" stroke="#6a6ad8" stroke-width="1.05"/><path d="M62.4 339.32V343.27M61.1 339.32H63.7M61.1 343.27H63.7M74.35 350.71V362.55M73.05 350.71H75.65M73.05 362.55H75.65" stroke="#6a6ad8" stroke-width="0.8" fill="none"/><g fill="#6a6ad8"><circle cx="26.54" cy="341.3" r="1.7"/><circle cx="38.49" cy="341.3" r="1.7"/><circle cx="50.44" cy="341.3" r="1.7"/><circle cx="62.4" cy="341.3" r="1.7"/><circle cx="74.35" cy="356.63" r="1.7"/><circle cx="86.3" cy="375.26" r="1.7"/><circle cx="98.25" cy="381.72" r="1.7"/><circle cx="110.2" cy="388.62" r="1.7"/><circle cx="122.15" cy="391.04" r="1.7"/></g><path d="M26.54 344.06L27.74 344.17L28.93 344.31L30.13 344.45L31.32 344.61L32.52 344.8L33.71 345L34.91 345.22L36.1 345.48L37.3 345.75L38.49 346.06L39.69 346.41L40.88 346.78L42.08 347.2L43.27 347.66L44.47 348.17L45.66 348.73L46.86 349.34L48.05 350L49.25 350.72L50.44 351.5L51.64 352.35L52.83 353.26L54.03 354.23L55.23 355.27L56.42 356.37L57.62 357.53L58.81 358.75L60.01 360.02L61.2 361.35L62.4 362.71L63.59 364.1L64.79 365.52L65.98 366.96L67.18 368.4L68.37 369.84L69.57 371.27L70.76 372.67L71.96 374.04L73.15 375.38L74.35 376.66L75.54 377.9L76.74 379.08L77.93 380.19L79.13 381.25L80.32 382.24L81.52 383.16L82.71 384.03L83.91 384.83L85.1 385.56L86.3 386.24L87.49 386.87L88.69 387.44L89.88 387.96L91.08 388.43L92.27 388.86L93.47 389.25L94.66 389.6L95.86 389.92L97.05 390.2L98.25 390.46L99.44 390.69L100.64 390.9L101.83 391.09L103.03 391.26L104.22 391.41L105.42 391.54L106.61 391.66L107.81 391.77L109 391.87L110.2 391.95L111.39 392.03L112.59 392.1L113.78 392.16L114.98 392.22L116.17 392.26L117.37 392.31L118.56 392.35L119.76 392.38L120.95 392.41L122.15 392.44" fill="none" stroke="#e4522a" stroke-width="1.05"/><g fill="#e4522a"><circle cx="26.54" cy="345.78" r="1.7"/><circle cx="38.49" cy="345.78" r="1.7"/><circle cx="50.44" cy="347.8" r="1.7"/><circle cx="62.4" cy="369.99" r="1.7"/><circle cx="74.35" cy="377.19" r="1.7"/><circle cx="86.3" cy="385.08" r="1.7"/><circle cx="98.25" cy="390.4" r="1.7"/><circle cx="110.2" cy="392.91" r="1.7"/><circle cx="122.15" cy="393.9" r="1.7"/></g></g>
<g><text x="208.05" y="324.9" font-size="5.9" font-weight="bold" text-anchor="middle">L540</text><text transform="translate(141.2,365.49) rotate(-90)" font-size="5.9" font-weight="bold" text-anchor="middle">Cell viability (%)</text><text x="155.1" y="396" font-size="5.9" font-weight="bold" text-anchor="end">0</text><text x="155.1" y="371.35" font-size="5.9" font-weight="bold" text-anchor="end">50</text><text x="155.1" y="346.7" font-size="5.9" font-weight="bold" text-anchor="end">100</text><text x="158.3" y="407.71" font-size="5.9" font-weight="bold" text-anchor="middle">0.01</text><text x="178.2" y="407.71" font-size="5.9" font-weight="bold" text-anchor="middle">0.1</text><text x="198.1" y="407.71" font-size="5.9" font-weight="bold" text-anchor="middle">1</text><text x="218" y="407.71" font-size="5.9" font-weight="bold" text-anchor="middle">10</text><text x="237.9" y="407.71" font-size="5.9" font-weight="bold" text-anchor="middle">100</text><text x="257.8" y="407.71" font-size="5.9" font-weight="bold" text-anchor="middle">1,000</text><path d="M156.3 393.9H158.3M156.3 369.25H158.3M156.3 344.6H158.3M158.3 398.71V401.51M178.2 398.71V401.51M198.1 398.71V401.51M218 398.71V401.51M237.9 398.71V401.51M257.8 398.71V401.51" stroke="#1a1a1a" stroke-width="0.9"/><text x="208.4" y="417.11" font-size="5.9" font-weight="bold" text-anchor="middle">Conc. (nmol/L)</text><line x1="159.8" y1="393.9" x2="257.8" y2="393.9" stroke="#333" stroke-width="0.9" stroke-dasharray="0.7 0.8"/><path d="M158.3 332.28V398.71H257.8" fill="none" stroke="#1a1a1a" stroke-width="1"/><path d="M161.95 345.09L163.15 345.09L164.35 345.09L165.55 345.09L166.74 345.09L167.94 345.09L169.14 345.09L170.34 345.09L171.54 345.09L172.73 345.09L173.93 345.09L175.13 345.09L176.33 345.09L177.53 345.09L178.73 345.09L179.92 345.09L181.12 345.09L182.32 345.09L183.52 345.09L184.72 345.09L185.91 345.09L187.11 345.09L188.31 345.09L189.51 345.09L190.71 345.1L191.9 345.1L193.1 345.11L194.3 345.13L195.5 345.18L196.7 345.3L197.9 345.57L199.09 346.18L200.29 347.53L201.49 350.34L202.69 355.66L203.89 363.98L205.08 373.83L206.28 382.28L207.48 387.73L208.68 390.63L209.88 392.03L211.07 392.66L212.27 392.94L213.47 393.06L214.67 393.12L215.87 393.14L217.06 393.15L218.26 393.16L219.46 393.16L220.66 393.16L221.86 393.16L223.06 393.16L224.25 393.16L225.45 393.16L226.65 393.16L227.85 393.16L229.05 393.16L230.24 393.16L231.44 393.16L232.64 393.16L233.84 393.16L235.04 393.16L236.23 393.16L237.43 393.16L238.63 393.16L239.83 393.16L241.03 393.16L242.22 393.16L243.42 393.16L244.62 393.16L245.82 393.16L247.02 393.16L248.22 393.16L249.41 393.16L250.61 393.16L251.81 393.16L253.01 393.16L254.21 393.16L255.4 393.16L256.6 393.16L257.8 393.16" fill="none" stroke="#53565c" stroke-width="1.05"/><path d="M197.9 343.71V346.67M196.6 343.71H199.2M196.6 346.67H199.2" stroke="#53565c" stroke-width="0.8" fill="none"/><g fill="#53565c"><circle cx="161.95" cy="345.19" r="1.7"/><circle cx="173.93" cy="345.19" r="1.7"/><circle cx="185.91" cy="345.19" r="1.7"/><circle cx="197.9" cy="345.19" r="1.7"/><circle cx="209.88" cy="392.52" r="1.7"/><circle cx="221.86" cy="392.52" r="1.7"/><circle cx="233.84" cy="392.52" r="1.7"/><circle cx="245.82" cy="392.52" r="1.7"/><circle cx="257.8" cy="392.52" r="1.7"/></g><path d="M161.95 349.04L163.15 349.04L164.35 349.04L165.55 349.04L166.74 349.04L167.94 349.04L169.14 349.04L170.34 349.04L171.54 349.04L172.73 349.04L173.93 349.04L175.13 349.04L176.33 349.04L177.53 349.04L178.73 349.04L179.92 349.04L181.12 349.04L182.32 349.04L183.52 349.04L184.72 349.04L185.91 349.04L187.11 349.04L188.31 349.04L189.51 349.04L190.71 349.04L191.9 349.04L193.1 349.05L194.3 349.06L195.5 349.08L196.7 349.15L197.9 349.29L199.09 349.61L200.29 350.32L201.49 351.88L202.69 355.06L203.89 360.73L205.08 368.89L206.28 377.53L207.48 384.2L208.68 388.18L209.88 390.21L211.07 391.16L212.27 391.59L213.47 391.78L214.67 391.86L215.87 391.9L217.06 391.92L218.26 391.92L219.46 391.93L220.66 391.93L221.86 391.93L223.06 391.93L224.25 391.93L225.45 391.93L226.65 391.93L227.85 391.93L229.05 391.93L230.24 391.93L231.44 391.93L232.64 391.93L233.84 391.93L235.04 391.93L236.23 391.93L237.43 391.93L238.63 391.93L239.83 391.93L241.03 391.93L242.22 391.93L243.42 391.93L244.62 391.93L245.82 391.93L247.02 391.93L248.22 391.93L249.41 391.93L250.61 391.93L251.81 391.93L253.01 391.93L254.21 391.93L255.4 391.93L256.6 391.93L257.8 391.93" fill="none" stroke="#6a6ad8" stroke-width="1.05"/><path d="M161.95 347.07V351.01M160.65 347.07H163.25M160.65 351.01H163.25" stroke="#6a6ad8" stroke-width="0.8" fill="none"/><g fill="#6a6ad8"><circle cx="161.95" cy="349.04" r="1.7"/><circle cx="173.93" cy="348.89" r="1.7"/><circle cx="185.91" cy="348.89" r="1.7"/><circle cx="197.9" cy="349.53" r="1.7"/><circle cx="209.88" cy="391.53" r="1.7"/><circle cx="221.86" cy="391.53" r="1.7"/><circle cx="233.84" cy="391.53" r="1.7"/><circle cx="245.82" cy="391.53" r="1.7"/><circle cx="257.8" cy="391.53" r="1.7"/></g><path d="M161.95 350.52L163.15 350.52L164.35 350.52L165.55 350.52L166.74 350.52L167.94 350.52L169.14 350.52L170.34 350.52L171.54 350.52L172.73 350.52L173.93 350.52L175.13 350.52L176.33 350.52L177.53 350.52L178.73 350.52L179.92 350.52L181.12 350.52L182.32 350.52L183.52 350.52L184.72 350.54L185.91 350.71L187.11 351.8L188.31 358.15L189.51 376.57L190.71 390.4L191.9 393.69L193.1 394.21L194.3 394.28L195.5 394.29L196.7 394.29L197.9 394.29L199.09 394.29L200.29 394.29L201.49 394.29L202.69 394.29L203.89 394.29L205.08 394.29L206.28 394.29L207.48 394.29L208.68 394.29L209.88 394.29L211.07 394.29L212.27 394.29L213.47 394.29L214.67 394.29L215.87 394.29L217.06 394.29L218.26 394.29L219.46 394.29L220.66 394.29L221.86 394.29L223.06 394.29L224.25 394.29L225.45 394.29L226.65 394.29L227.85 394.29L229.05 394.29L230.24 394.29L231.44 394.29L232.64 394.29L233.84 394.29L235.04 394.29L236.23 394.29L237.43 394.29L238.63 394.29L239.83 394.29L241.03 394.29L242.22 394.29L243.42 394.29L244.62 394.29L245.82 394.29L247.02 394.29L248.22 394.29L249.41 394.29L250.61 394.29L251.81 394.29L253.01 394.29L254.21 394.29L255.4 394.29L256.6 394.29L257.8 394.29" fill="none" stroke="#e4522a" stroke-width="1.05"/><path d="M161.95 343.86V345.83M160.65 343.86H163.25M160.65 345.83H163.25M173.93 347.76V353.67M172.63 347.76H175.23M172.63 353.67H175.23" stroke="#e4522a" stroke-width="0.8" fill="none"/><g fill="#e4522a"><circle cx="161.95" cy="344.85" r="1.7"/><circle cx="173.93" cy="350.71" r="1.7"/><circle cx="185.91" cy="350.71" r="1.7"/><circle cx="197.9" cy="394.29" r="1.7"/><circle cx="209.88" cy="394.29" r="1.7"/><circle cx="221.86" cy="394.29" r="1.7"/><circle cx="233.84" cy="394.29" r="1.7"/><circle cx="245.82" cy="394.29" r="1.7"/><circle cx="257.8" cy="394.29" r="1.7"/></g></g>
</g>
</svg>
</body></html>
